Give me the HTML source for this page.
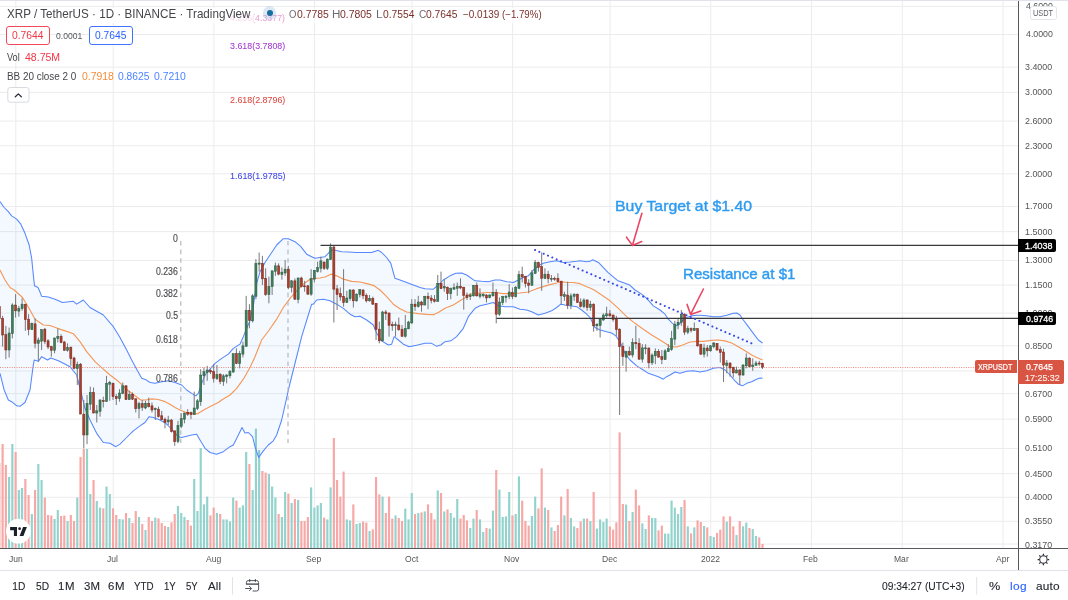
<!DOCTYPE html>
<html><head><meta charset="utf-8"><title>XRPUSDT chart</title>
<style>
html,body{margin:0;padding:0;background:#fff}
body{width:1068px;height:600px;position:relative;overflow:hidden;font-family:"Liberation Sans",sans-serif}
svg{position:absolute;left:0;top:0}
.t{position:absolute;white-space:pre;display:block}
.b{position:absolute;box-sizing:border-box}
#txt{position:absolute;left:0;top:0;width:1068px;height:600px;will-change:transform}
</style></head>
<body>
<svg width="1068" height="600" viewBox="0 0 1068 600">
<line x1="0" y1="6.41" x2="1018.5" y2="6.41" stroke="#ececee" stroke-width="1"/>
<line x1="0" y1="34.5" x2="1018.5" y2="34.5" stroke="#ececee" stroke-width="1"/>
<line x1="0" y1="67.17" x2="1018.5" y2="67.17" stroke="#ececee" stroke-width="1"/>
<line x1="0" y1="92.32" x2="1018.5" y2="92.32" stroke="#ececee" stroke-width="1"/>
<line x1="0" y1="121.09" x2="1018.5" y2="121.09" stroke="#ececee" stroke-width="1"/>
<line x1="0" y1="145.73" x2="1018.5" y2="145.73" stroke="#ececee" stroke-width="1"/>
<line x1="0" y1="173.82" x2="1018.5" y2="173.82" stroke="#ececee" stroke-width="1"/>
<line x1="0" y1="206.49" x2="1018.5" y2="206.49" stroke="#ececee" stroke-width="1"/>
<line x1="0" y1="231.65" x2="1018.5" y2="231.65" stroke="#ececee" stroke-width="1"/>
<line x1="0" y1="260.41" x2="1018.5" y2="260.41" stroke="#ececee" stroke-width="1"/>
<line x1="0" y1="285.05" x2="1018.5" y2="285.05" stroke="#ececee" stroke-width="1"/>
<line x1="0" y1="313.15" x2="1018.5" y2="313.15" stroke="#ececee" stroke-width="1"/>
<line x1="0" y1="345.81" x2="1018.5" y2="345.81" stroke="#ececee" stroke-width="1"/>
<line x1="0" y1="370.97" x2="1018.5" y2="370.97" stroke="#ececee" stroke-width="1"/>
<line x1="0" y1="393.64" x2="1018.5" y2="393.64" stroke="#ececee" stroke-width="1"/>
<line x1="0" y1="419.2" x2="1018.5" y2="419.2" stroke="#ececee" stroke-width="1"/>
<line x1="0" y1="448.49" x2="1018.5" y2="448.49" stroke="#ececee" stroke-width="1"/>
<line x1="0" y1="473.65" x2="1018.5" y2="473.65" stroke="#ececee" stroke-width="1"/>
<line x1="0" y1="497.32" x2="1018.5" y2="497.32" stroke="#ececee" stroke-width="1"/>
<line x1="0" y1="521.31" x2="1018.5" y2="521.31" stroke="#ececee" stroke-width="1"/>
<line x1="0" y1="544.06" x2="1018.5" y2="544.06" stroke="#ececee" stroke-width="1"/>
<line x1="15.8" y1="1" x2="15.8" y2="548.5" stroke="#ececee" stroke-width="1"/>
<line x1="113.22" y1="1" x2="113.22" y2="548.5" stroke="#ececee" stroke-width="1"/>
<line x1="213.89" y1="1" x2="213.89" y2="548.5" stroke="#ececee" stroke-width="1"/>
<line x1="314.56" y1="1" x2="314.56" y2="548.5" stroke="#ececee" stroke-width="1"/>
<line x1="411.98" y1="1" x2="411.98" y2="548.5" stroke="#ececee" stroke-width="1"/>
<line x1="512.65" y1="1" x2="512.65" y2="548.5" stroke="#ececee" stroke-width="1"/>
<line x1="610.07" y1="1" x2="610.07" y2="548.5" stroke="#ececee" stroke-width="1"/>
<line x1="710.74" y1="1" x2="710.74" y2="548.5" stroke="#ececee" stroke-width="1"/>
<line x1="811.41" y1="1" x2="811.41" y2="548.5" stroke="#ececee" stroke-width="1"/>
<line x1="902.34" y1="1" x2="902.34" y2="548.5" stroke="#ececee" stroke-width="1"/>
<line x1="1003.01" y1="1" x2="1003.01" y2="548.5" stroke="#ececee" stroke-width="1"/>
<g><rect x="-1.72" y="463" width="2.16" height="85" fill="#f7a8a6"/><rect x="1.53" y="444" width="2.16" height="104" fill="#f7a8a6"/><rect x="4.78" y="465" width="2.16" height="83" fill="#f7a8a6"/><rect x="8.03" y="477" width="2.16" height="71" fill="#93d3cd"/><rect x="11.27" y="444" width="2.16" height="104" fill="#93d3cd"/><rect x="14.52" y="452" width="2.16" height="96" fill="#f7a8a6"/><rect x="17.77" y="490" width="2.16" height="58" fill="#93d3cd"/><rect x="21.01" y="488" width="2.16" height="60" fill="#93d3cd"/><rect x="24.26" y="479" width="2.16" height="69" fill="#f7a8a6"/><rect x="27.51" y="495" width="2.16" height="53" fill="#f7a8a6"/><rect x="30.76" y="514" width="2.16" height="34" fill="#93d3cd"/><rect x="34" y="490" width="2.16" height="58" fill="#f7a8a6"/><rect x="37.25" y="464" width="2.16" height="84" fill="#93d3cd"/><rect x="40.5" y="480" width="2.16" height="68" fill="#93d3cd"/><rect x="43.75" y="497.6" width="2.16" height="50.4" fill="#f7a8a6"/><rect x="46.99" y="515" width="2.16" height="33" fill="#f7a8a6"/><rect x="50.24" y="515.6" width="2.16" height="32.4" fill="#f7a8a6"/><rect x="53.49" y="519" width="2.16" height="29" fill="#93d3cd"/><rect x="56.74" y="510" width="2.16" height="38" fill="#93d3cd"/><rect x="59.98" y="516" width="2.16" height="32" fill="#f7a8a6"/><rect x="63.23" y="515.6" width="2.16" height="32.4" fill="#f7a8a6"/><rect x="66.48" y="521" width="2.16" height="27" fill="#93d3cd"/><rect x="69.73" y="515" width="2.16" height="33" fill="#f7a8a6"/><rect x="72.97" y="521" width="2.16" height="27" fill="#f7a8a6"/><rect x="76.22" y="497.6" width="2.16" height="50.4" fill="#93d3cd"/><rect x="79.47" y="457" width="2.16" height="91" fill="#f7a8a6"/><rect x="82.72" y="449" width="2.16" height="99" fill="#f7a8a6"/><rect x="85.96" y="449" width="2.16" height="99" fill="#93d3cd"/><rect x="89.21" y="494" width="2.16" height="54" fill="#93d3cd"/><rect x="92.46" y="480" width="2.16" height="68" fill="#f7a8a6"/><rect x="95.7" y="501" width="2.16" height="47" fill="#93d3cd"/><rect x="98.95" y="507.6" width="2.16" height="40.4" fill="#93d3cd"/><rect x="102.2" y="508.4" width="2.16" height="39.6" fill="#f7a8a6"/><rect x="105.45" y="486.6" width="2.16" height="61.4" fill="#93d3cd"/><rect x="108.69" y="494" width="2.16" height="54" fill="#93d3cd"/><rect x="111.94" y="508.4" width="2.16" height="39.6" fill="#f7a8a6"/><rect x="115.19" y="515" width="2.16" height="33" fill="#f7a8a6"/><rect x="118.44" y="519" width="2.16" height="29" fill="#93d3cd"/><rect x="121.68" y="519.4" width="2.16" height="28.6" fill="#93d3cd"/><rect x="124.93" y="513" width="2.16" height="35" fill="#f7a8a6"/><rect x="128.18" y="518" width="2.16" height="30" fill="#93d3cd"/><rect x="131.43" y="523" width="2.16" height="25" fill="#f7a8a6"/><rect x="134.67" y="511" width="2.16" height="37" fill="#f7a8a6"/><rect x="137.92" y="517" width="2.16" height="31" fill="#93d3cd"/><rect x="141.17" y="524" width="2.16" height="24" fill="#f7a8a6"/><rect x="144.42" y="530" width="2.16" height="18" fill="#93d3cd"/><rect x="147.66" y="517" width="2.16" height="31" fill="#f7a8a6"/><rect x="150.91" y="521" width="2.16" height="27" fill="#f7a8a6"/><rect x="154.16" y="517.6" width="2.16" height="30.4" fill="#93d3cd"/><rect x="157.41" y="518.4" width="2.16" height="29.6" fill="#f7a8a6"/><rect x="160.65" y="523" width="2.16" height="25" fill="#f7a8a6"/><rect x="163.9" y="526" width="2.16" height="22" fill="#f7a8a6"/><rect x="167.15" y="527" width="2.16" height="21" fill="#93d3cd"/><rect x="170.4" y="522.4" width="2.16" height="25.6" fill="#f7a8a6"/><rect x="173.64" y="514" width="2.16" height="34" fill="#f7a8a6"/><rect x="176.89" y="506" width="2.16" height="42" fill="#93d3cd"/><rect x="180.14" y="513" width="2.16" height="35" fill="#93d3cd"/><rect x="183.38" y="517" width="2.16" height="31" fill="#93d3cd"/><rect x="186.63" y="520" width="2.16" height="28" fill="#f7a8a6"/><rect x="189.88" y="525.6" width="2.16" height="22.4" fill="#f7a8a6"/><rect x="193.13" y="479" width="2.16" height="69" fill="#93d3cd"/><rect x="196.37" y="511" width="2.16" height="37" fill="#93d3cd"/><rect x="199.62" y="448" width="2.16" height="100" fill="#93d3cd"/><rect x="202.87" y="504.4" width="2.16" height="43.6" fill="#93d3cd"/><rect x="206.12" y="496.6" width="2.16" height="51.4" fill="#93d3cd"/><rect x="209.36" y="515.4" width="2.16" height="32.6" fill="#f7a8a6"/><rect x="212.61" y="507.6" width="2.16" height="40.4" fill="#f7a8a6"/><rect x="215.86" y="513" width="2.16" height="35" fill="#93d3cd"/><rect x="219.11" y="514" width="2.16" height="34" fill="#f7a8a6"/><rect x="222.35" y="519.4" width="2.16" height="28.6" fill="#93d3cd"/><rect x="225.6" y="519.4" width="2.16" height="28.6" fill="#93d3cd"/><rect x="228.85" y="521.4" width="2.16" height="26.6" fill="#93d3cd"/><rect x="232.1" y="497.6" width="2.16" height="50.4" fill="#93d3cd"/><rect x="235.34" y="500.6" width="2.16" height="47.4" fill="#f7a8a6"/><rect x="238.59" y="507.6" width="2.16" height="40.4" fill="#93d3cd"/><rect x="241.84" y="505.4" width="2.16" height="42.6" fill="#93d3cd"/><rect x="245.09" y="452" width="2.16" height="96" fill="#93d3cd"/><rect x="248.33" y="464" width="2.16" height="84" fill="#f7a8a6"/><rect x="251.58" y="490" width="2.16" height="58" fill="#93d3cd"/><rect x="254.83" y="428.6" width="2.16" height="119.4" fill="#93d3cd"/><rect x="258.07" y="450" width="2.16" height="98" fill="#93d3cd"/><rect x="261.32" y="471" width="2.16" height="77" fill="#f7a8a6"/><rect x="264.57" y="472.6" width="2.16" height="75.4" fill="#f7a8a6"/><rect x="267.82" y="474" width="2.16" height="74" fill="#93d3cd"/><rect x="271.06" y="486.6" width="2.16" height="61.4" fill="#93d3cd"/><rect x="274.31" y="497.6" width="2.16" height="50.4" fill="#93d3cd"/><rect x="277.56" y="514" width="2.16" height="34" fill="#f7a8a6"/><rect x="280.81" y="517" width="2.16" height="31" fill="#93d3cd"/><rect x="284.05" y="492" width="2.16" height="56" fill="#93d3cd"/><rect x="287.3" y="493.6" width="2.16" height="54.4" fill="#f7a8a6"/><rect x="290.55" y="503" width="2.16" height="45" fill="#93d3cd"/><rect x="293.8" y="499" width="2.16" height="49" fill="#f7a8a6"/><rect x="297.04" y="500" width="2.16" height="48" fill="#93d3cd"/><rect x="300.29" y="521" width="2.16" height="27" fill="#f7a8a6"/><rect x="303.54" y="521" width="2.16" height="27" fill="#f7a8a6"/><rect x="306.79" y="517" width="2.16" height="31" fill="#f7a8a6"/><rect x="310.03" y="487.4" width="2.16" height="60.6" fill="#93d3cd"/><rect x="313.28" y="507.6" width="2.16" height="40.4" fill="#93d3cd"/><rect x="316.53" y="505.4" width="2.16" height="42.6" fill="#93d3cd"/><rect x="319.78" y="503" width="2.16" height="45" fill="#93d3cd"/><rect x="323.02" y="517.6" width="2.16" height="30.4" fill="#f7a8a6"/><rect x="326.27" y="519.4" width="2.16" height="28.6" fill="#93d3cd"/><rect x="329.52" y="487.4" width="2.16" height="60.6" fill="#93d3cd"/><rect x="332.77" y="438" width="2.16" height="110" fill="#f7a8a6"/><rect x="336.01" y="480" width="2.16" height="68" fill="#f7a8a6"/><rect x="339.26" y="496.6" width="2.16" height="51.4" fill="#f7a8a6"/><rect x="342.51" y="471.6" width="2.16" height="76.4" fill="#f7a8a6"/><rect x="345.75" y="519.4" width="2.16" height="28.6" fill="#93d3cd"/><rect x="349" y="520.4" width="2.16" height="27.6" fill="#93d3cd"/><rect x="352.25" y="504.4" width="2.16" height="43.6" fill="#f7a8a6"/><rect x="355.5" y="524" width="2.16" height="24" fill="#93d3cd"/><rect x="358.74" y="523" width="2.16" height="25" fill="#93d3cd"/><rect x="361.99" y="521.6" width="2.16" height="26.4" fill="#f7a8a6"/><rect x="365.24" y="522.6" width="2.16" height="25.4" fill="#f7a8a6"/><rect x="368.49" y="531" width="2.16" height="17" fill="#93d3cd"/><rect x="371.73" y="529.4" width="2.16" height="18.6" fill="#f7a8a6"/><rect x="374.98" y="477" width="2.16" height="71" fill="#f7a8a6"/><rect x="378.23" y="494.4" width="2.16" height="53.6" fill="#f7a8a6"/><rect x="381.48" y="496.6" width="2.16" height="51.4" fill="#93d3cd"/><rect x="384.72" y="513" width="2.16" height="35" fill="#f7a8a6"/><rect x="387.97" y="496.6" width="2.16" height="51.4" fill="#f7a8a6"/><rect x="391.22" y="518.6" width="2.16" height="29.4" fill="#f7a8a6"/><rect x="394.47" y="515.4" width="2.16" height="32.6" fill="#93d3cd"/><rect x="397.71" y="518" width="2.16" height="30" fill="#f7a8a6"/><rect x="400.96" y="521" width="2.16" height="27" fill="#f7a8a6"/><rect x="404.21" y="508.6" width="2.16" height="39.4" fill="#93d3cd"/><rect x="407.46" y="519.4" width="2.16" height="28.6" fill="#93d3cd"/><rect x="410.7" y="493" width="2.16" height="55" fill="#93d3cd"/><rect x="413.95" y="514" width="2.16" height="34" fill="#f7a8a6"/><rect x="417.2" y="513" width="2.16" height="35" fill="#93d3cd"/><rect x="420.44" y="512.4" width="2.16" height="35.6" fill="#f7a8a6"/><rect x="423.69" y="511.4" width="2.16" height="36.6" fill="#93d3cd"/><rect x="426.94" y="504.4" width="2.16" height="43.6" fill="#f7a8a6"/><rect x="430.19" y="513" width="2.16" height="35" fill="#f7a8a6"/><rect x="433.43" y="519.4" width="2.16" height="28.6" fill="#f7a8a6"/><rect x="436.68" y="490.4" width="2.16" height="57.6" fill="#93d3cd"/><rect x="439.93" y="493" width="2.16" height="55" fill="#f7a8a6"/><rect x="443.18" y="511.4" width="2.16" height="36.6" fill="#93d3cd"/><rect x="446.42" y="509.4" width="2.16" height="38.6" fill="#f7a8a6"/><rect x="449.67" y="513" width="2.16" height="35" fill="#93d3cd"/><rect x="452.92" y="517.6" width="2.16" height="30.4" fill="#93d3cd"/><rect x="456.17" y="499" width="2.16" height="49" fill="#93d3cd"/><rect x="459.41" y="518.6" width="2.16" height="29.4" fill="#f7a8a6"/><rect x="462.66" y="515" width="2.16" height="33" fill="#f7a8a6"/><rect x="465.91" y="520.4" width="2.16" height="27.6" fill="#f7a8a6"/><rect x="469.16" y="528" width="2.16" height="20" fill="#93d3cd"/><rect x="472.4" y="518.6" width="2.16" height="29.4" fill="#93d3cd"/><rect x="475.65" y="510" width="2.16" height="38" fill="#f7a8a6"/><rect x="478.9" y="519.4" width="2.16" height="28.6" fill="#93d3cd"/><rect x="482.15" y="532" width="2.16" height="16" fill="#93d3cd"/><rect x="485.39" y="528" width="2.16" height="20" fill="#f7a8a6"/><rect x="488.64" y="528.6" width="2.16" height="19.4" fill="#93d3cd"/><rect x="491.89" y="510.6" width="2.16" height="37.4" fill="#93d3cd"/><rect x="495.14" y="470" width="2.16" height="78" fill="#f7a8a6"/><rect x="498.38" y="489.6" width="2.16" height="58.4" fill="#93d3cd"/><rect x="501.63" y="517" width="2.16" height="31" fill="#93d3cd"/><rect x="504.88" y="516.4" width="2.16" height="31.6" fill="#93d3cd"/><rect x="508.12" y="492" width="2.16" height="56" fill="#93d3cd"/><rect x="511.37" y="515.4" width="2.16" height="32.6" fill="#f7a8a6"/><rect x="514.62" y="514" width="2.16" height="34" fill="#93d3cd"/><rect x="517.87" y="476.4" width="2.16" height="71.6" fill="#93d3cd"/><rect x="521.11" y="500.6" width="2.16" height="47.4" fill="#f7a8a6"/><rect x="524.36" y="521" width="2.16" height="27" fill="#f7a8a6"/><rect x="527.61" y="525.6" width="2.16" height="22.4" fill="#f7a8a6"/><rect x="530.86" y="516" width="2.16" height="32" fill="#93d3cd"/><rect x="534.1" y="496.6" width="2.16" height="51.4" fill="#93d3cd"/><rect x="537.35" y="508.4" width="2.16" height="39.6" fill="#f7a8a6"/><rect x="540.6" y="468.4" width="2.16" height="79.6" fill="#f7a8a6"/><rect x="543.85" y="507.6" width="2.16" height="40.4" fill="#93d3cd"/><rect x="547.09" y="510" width="2.16" height="38" fill="#f7a8a6"/><rect x="550.34" y="527.4" width="2.16" height="20.6" fill="#93d3cd"/><rect x="553.59" y="531" width="2.16" height="17" fill="#f7a8a6"/><rect x="556.84" y="525" width="2.16" height="23" fill="#f7a8a6"/><rect x="560.08" y="496.6" width="2.16" height="51.4" fill="#f7a8a6"/><rect x="563.33" y="515.4" width="2.16" height="32.6" fill="#93d3cd"/><rect x="566.58" y="489" width="2.16" height="59" fill="#f7a8a6"/><rect x="569.83" y="518" width="2.16" height="30" fill="#93d3cd"/><rect x="573.07" y="526.4" width="2.16" height="21.6" fill="#93d3cd"/><rect x="576.32" y="528" width="2.16" height="20" fill="#f7a8a6"/><rect x="579.57" y="521.4" width="2.16" height="26.6" fill="#f7a8a6"/><rect x="582.81" y="518.6" width="2.16" height="29.4" fill="#93d3cd"/><rect x="586.06" y="518.6" width="2.16" height="29.4" fill="#f7a8a6"/><rect x="589.31" y="521" width="2.16" height="27" fill="#93d3cd"/><rect x="592.56" y="492" width="2.16" height="56" fill="#f7a8a6"/><rect x="595.8" y="528.6" width="2.16" height="19.4" fill="#93d3cd"/><rect x="599.05" y="519.4" width="2.16" height="28.6" fill="#93d3cd"/><rect x="602.3" y="522" width="2.16" height="26" fill="#93d3cd"/><rect x="605.55" y="518.6" width="2.16" height="29.4" fill="#93d3cd"/><rect x="608.79" y="526.4" width="2.16" height="21.6" fill="#f7a8a6"/><rect x="612.04" y="529.6" width="2.16" height="18.4" fill="#f7a8a6"/><rect x="615.29" y="522.4" width="2.16" height="25.6" fill="#f7a8a6"/><rect x="618.54" y="432.4" width="2.16" height="115.6" fill="#f7a8a6"/><rect x="621.78" y="504" width="2.16" height="44" fill="#f7a8a6"/><rect x="625.03" y="504.6" width="2.16" height="43.4" fill="#93d3cd"/><rect x="628.28" y="521" width="2.16" height="27" fill="#f7a8a6"/><rect x="631.53" y="512" width="2.16" height="36" fill="#93d3cd"/><rect x="634.77" y="489.6" width="2.16" height="58.4" fill="#f7a8a6"/><rect x="638.02" y="505.4" width="2.16" height="42.6" fill="#f7a8a6"/><rect x="641.27" y="523.4" width="2.16" height="24.6" fill="#93d3cd"/><rect x="644.52" y="529" width="2.16" height="19" fill="#93d3cd"/><rect x="647.76" y="515.4" width="2.16" height="32.6" fill="#f7a8a6"/><rect x="651.01" y="518" width="2.16" height="30" fill="#93d3cd"/><rect x="654.26" y="518" width="2.16" height="30" fill="#93d3cd"/><rect x="657.51" y="530.4" width="2.16" height="17.6" fill="#f7a8a6"/><rect x="660.75" y="525.6" width="2.16" height="22.4" fill="#f7a8a6"/><rect x="664" y="533.6" width="2.16" height="14.4" fill="#93d3cd"/><rect x="667.25" y="533.6" width="2.16" height="14.4" fill="#93d3cd"/><rect x="670.49" y="500.6" width="2.16" height="47.4" fill="#93d3cd"/><rect x="673.74" y="507.6" width="2.16" height="40.4" fill="#93d3cd"/><rect x="676.99" y="514" width="2.16" height="34" fill="#93d3cd"/><rect x="680.24" y="507" width="2.16" height="41" fill="#93d3cd"/><rect x="683.48" y="500" width="2.16" height="48" fill="#f7a8a6"/><rect x="686.73" y="526.4" width="2.16" height="21.6" fill="#93d3cd"/><rect x="689.98" y="533.4" width="2.16" height="14.6" fill="#f7a8a6"/><rect x="693.23" y="527.4" width="2.16" height="20.6" fill="#93d3cd"/><rect x="696.47" y="520.4" width="2.16" height="27.6" fill="#f7a8a6"/><rect x="699.72" y="522" width="2.16" height="26" fill="#f7a8a6"/><rect x="702.97" y="526" width="2.16" height="22" fill="#93d3cd"/><rect x="706.22" y="527.4" width="2.16" height="20.6" fill="#f7a8a6"/><rect x="709.46" y="536" width="2.16" height="12" fill="#93d3cd"/><rect x="712.71" y="537" width="2.16" height="11" fill="#93d3cd"/><rect x="715.96" y="533" width="2.16" height="15" fill="#f7a8a6"/><rect x="719.21" y="529.6" width="2.16" height="18.4" fill="#f7a8a6"/><rect x="722.45" y="516.4" width="2.16" height="31.6" fill="#f7a8a6"/><rect x="725.7" y="521.6" width="2.16" height="26.4" fill="#93d3cd"/><rect x="728.95" y="516.4" width="2.16" height="31.6" fill="#f7a8a6"/><rect x="732.2" y="526.4" width="2.16" height="21.6" fill="#f7a8a6"/><rect x="735.44" y="535" width="2.16" height="13" fill="#93d3cd"/><rect x="738.69" y="521" width="2.16" height="27" fill="#f7a8a6"/><rect x="741.94" y="526.4" width="2.16" height="21.6" fill="#93d3cd"/><rect x="745.18" y="522.6" width="2.16" height="25.4" fill="#93d3cd"/><rect x="748.43" y="528" width="2.16" height="20" fill="#f7a8a6"/><rect x="751.68" y="529" width="2.16" height="19" fill="#93d3cd"/><rect x="754.93" y="536" width="2.16" height="12" fill="#93d3cd"/><rect x="758.17" y="537.4" width="2.16" height="10.6" fill="#f7a8a6"/><rect x="761.42" y="544" width="2.16" height="4" fill="#f7a8a6"/></g>
<path d="M0 201.67 L4.17 207.5 L8.33 211.67 L11.67 215.83 L16.67 219.17 L20.83 224.17 L25 233.33 L29.17 245 L31.67 258.33 L33.33 275 L34.5 285.83 L38 287.5 L39.17 290 L41.67 296.33 L48.33 297 L55 299.17 L62.5 302.5 L73.33 301.33 L76.67 304.17 L83.33 300 L90 307.5 L103.33 315 L113.33 326.67 L120 337.5 L126.67 350 L131.67 360 L136.67 369.17 L141.67 378.33 L145.83 379.67 L150 382.5 L155 383.33 L161.67 381.67 L168.33 380.83 L175 382.5 L181.67 385 L186.67 390 L191.67 393.33 L195.83 395.83 L198.33 393.33 L201.67 383.33 L205 375 L210 369.17 L215 363.33 L221.67 358.33 L228.33 354.17 L233.33 348.33 L240 344.17 L243.33 336.67 L246.67 328.33 L250 320.83 L253.67 303.33 L256.67 283.33 L260 271.67 L265 262.5 L270 255 L276.67 245 L283.33 238.67 L288.33 238.67 L295 241.67 L300.83 246.67 L306.67 254.17 L311.67 256.67 L315 258.33 L320 257.5 L325 256.67 L328.33 253.33 L330.83 250 L335 250.33 L341.67 251.67 L348.33 252 L356.67 252.5 L365 252.5 L371.67 252.5 L378.33 250.33 L381.67 252.5 L386.67 257.5 L390.83 263.33 L393.33 272.5 L395 278.33 L400 280 L406.67 282.5 L413.33 285 L420 287.5 L425 288.67 L433.33 289.17 L438.33 285 L443.33 280 L450 275.83 L455.83 273.33 L461.67 273 L466.67 275 L475 280.83 L481.67 281.33 L488.33 281.67 L495 280 L500 280 L506.67 281.67 L513.33 282.5 L518.33 280 L523.33 277.5 L528.33 275.83 L533.33 270 L538.33 265.83 L543.33 263.33 L550 261.67 L556.67 260.83 L563.33 262.5 L570 262 L576.67 261.33 L580 260.83 L586.67 261.67 L590 261.33 L592.71 259.73 L598.89 262.82 L608.16 272.71 L617.43 280.43 L629.79 285.07 L635 290 L641.67 294.17 L646.67 298.33 L653.33 305.83 L660 310 L665 314.17 L668.33 319.17 L672.5 323.33 L676.67 325.83 L680 323.33 L683.33 320 L686.67 317.5 L691.67 315.83 L696.67 315.33 L700 315.33 L706.67 315.83 L713.33 316.67 L720 316.67 L726.67 315.33 L733.33 313.33 L736.67 313 L740 315 L743.33 320 L748.33 326.67 L753.33 333.33 L758.33 340 L762.5 343 L762.5 378.33 L760 378 L756.67 379.17 L751.67 381.67 L746.67 383.33 L742.5 385.83 L738.33 384.17 L735 380.83 L730 375 L725 370 L720 367.5 L713.33 368.33 L706.67 370.83 L700 372 L693.33 370.83 L686.67 371.33 L680 373.33 L675 372 L670 375 L666.67 376.67 L663.33 379.17 L658.33 376.67 L653.33 375 L648.33 373.33 L643.33 370 L636.67 365.83 L630 360 L625 353.33 L620 341.67 L615.83 335.83 L611.67 333 L606.67 331.67 L600 330 L595 327.5 L590 317.5 L586.67 314.17 L581.67 310 L576.67 306.67 L570 305.83 L565 305 L560.83 304.17 L556.67 307.5 L551.67 310.83 L545 313.33 L538.33 315 L531.67 311.67 L526.67 310 L520 309.17 L513.33 306.67 L505 306.67 L498.33 305.83 L493.33 302.5 L486.67 304.17 L480 305.83 L475 308.33 L468.33 316.67 L463.33 328.33 L456.67 336.67 L450.83 340.83 L445 341.67 L440.83 345 L436.67 346.33 L431.67 343.33 L425 343.33 L416.67 345.33 L409.17 346.67 L403.33 344.17 L398.33 340 L394.17 336.67 L391.67 344.17 L388.33 345 L381.67 340.83 L376.67 333.33 L373.33 325 L366.67 320 L360 316.33 L355 316.67 L350 314.17 L343.33 308.33 L336.67 304.17 L330 300.83 L323.33 299.17 L316.67 300 L313.33 304.17 L311.67 304.17 L308.33 315 L301.67 336.67 L295.83 360 L290.83 380 L289.17 386.67 L285.83 401.67 L281.67 420 L276.67 435 L273.33 440.83 L268.33 445 L263.33 450.83 L258.67 457.5 L255 446.67 L252.5 436.67 L248.33 432.5 L245 433 L242 427.5 L237.5 436.67 L233.33 445 L230 446.67 L223.33 451.67 L216.67 454.17 L210 452.5 L205 448.33 L200 440 L196.67 434.17 L191.67 435 L186.67 436.33 L181.67 437.5 L178.33 436.67 L174.17 432.5 L170 427.5 L165.83 423.33 L160 420 L153.33 417.5 L149.17 416.67 L145 422.5 L140 425.83 L133.33 430.83 L126.67 437.5 L120 444.17 L115.83 446.67 L110 443.33 L103.33 442.5 L96.67 433.33 L90 420 L85 408.33 L81.67 395 L76.67 375 L70 366.67 L63.33 363.33 L58.33 360.83 L50.83 358 L47.5 360 L41.67 356.67 L38.33 361.33 L34.17 360 L32.83 368.33 L31.33 380 L30 390 L25 402.5 L20 406.33 L16.67 405.83 L11.67 401.67 L8.33 400 L4.17 390 L0 373.33Z" fill="#2d8cf0" fill-opacity="0.055" stroke="none"/>
<path d="M0 201.67 L4.17 207.5 L8.33 211.67 L11.67 215.83 L16.67 219.17 L20.83 224.17 L25 233.33 L29.17 245 L31.67 258.33 L33.33 275 L34.5 285.83 L38 287.5 L39.17 290 L41.67 296.33 L48.33 297 L55 299.17 L62.5 302.5 L73.33 301.33 L76.67 304.17 L83.33 300 L90 307.5 L103.33 315 L113.33 326.67 L120 337.5 L126.67 350 L131.67 360 L136.67 369.17 L141.67 378.33 L145.83 379.67 L150 382.5 L155 383.33 L161.67 381.67 L168.33 380.83 L175 382.5 L181.67 385 L186.67 390 L191.67 393.33 L195.83 395.83 L198.33 393.33 L201.67 383.33 L205 375 L210 369.17 L215 363.33 L221.67 358.33 L228.33 354.17 L233.33 348.33 L240 344.17 L243.33 336.67 L246.67 328.33 L250 320.83 L253.67 303.33 L256.67 283.33 L260 271.67 L265 262.5 L270 255 L276.67 245 L283.33 238.67 L288.33 238.67 L295 241.67 L300.83 246.67 L306.67 254.17 L311.67 256.67 L315 258.33 L320 257.5 L325 256.67 L328.33 253.33 L330.83 250 L335 250.33 L341.67 251.67 L348.33 252 L356.67 252.5 L365 252.5 L371.67 252.5 L378.33 250.33 L381.67 252.5 L386.67 257.5 L390.83 263.33 L393.33 272.5 L395 278.33 L400 280 L406.67 282.5 L413.33 285 L420 287.5 L425 288.67 L433.33 289.17 L438.33 285 L443.33 280 L450 275.83 L455.83 273.33 L461.67 273 L466.67 275 L475 280.83 L481.67 281.33 L488.33 281.67 L495 280 L500 280 L506.67 281.67 L513.33 282.5 L518.33 280 L523.33 277.5 L528.33 275.83 L533.33 270 L538.33 265.83 L543.33 263.33 L550 261.67 L556.67 260.83 L563.33 262.5 L570 262 L576.67 261.33 L580 260.83 L586.67 261.67 L590 261.33 L592.71 259.73 L598.89 262.82 L608.16 272.71 L617.43 280.43 L629.79 285.07 L635 290 L641.67 294.17 L646.67 298.33 L653.33 305.83 L660 310 L665 314.17 L668.33 319.17 L672.5 323.33 L676.67 325.83 L680 323.33 L683.33 320 L686.67 317.5 L691.67 315.83 L696.67 315.33 L700 315.33 L706.67 315.83 L713.33 316.67 L720 316.67 L726.67 315.33 L733.33 313.33 L736.67 313 L740 315 L743.33 320 L748.33 326.67 L753.33 333.33 L758.33 340 L762.5 343" fill="none" stroke="#5587ff" stroke-width="1.05" stroke-linejoin="round"/>
<path d="M0 373.33 L4.17 390 L8.33 400 L11.67 401.67 L16.67 405.83 L20 406.33 L25 402.5 L30 390 L31.33 380 L32.83 368.33 L34.17 360 L38.33 361.33 L41.67 356.67 L47.5 360 L50.83 358 L58.33 360.83 L63.33 363.33 L70 366.67 L76.67 375 L81.67 395 L85 408.33 L90 420 L96.67 433.33 L103.33 442.5 L110 443.33 L115.83 446.67 L120 444.17 L126.67 437.5 L133.33 430.83 L140 425.83 L145 422.5 L149.17 416.67 L153.33 417.5 L160 420 L165.83 423.33 L170 427.5 L174.17 432.5 L178.33 436.67 L181.67 437.5 L186.67 436.33 L191.67 435 L196.67 434.17 L200 440 L205 448.33 L210 452.5 L216.67 454.17 L223.33 451.67 L230 446.67 L233.33 445 L237.5 436.67 L242 427.5 L245 433 L248.33 432.5 L252.5 436.67 L255 446.67 L258.67 457.5 L263.33 450.83 L268.33 445 L273.33 440.83 L276.67 435 L281.67 420 L285.83 401.67 L289.17 386.67 L290.83 380 L295.83 360 L301.67 336.67 L308.33 315 L311.67 304.17 L313.33 304.17 L316.67 300 L323.33 299.17 L330 300.83 L336.67 304.17 L343.33 308.33 L350 314.17 L355 316.67 L360 316.33 L366.67 320 L373.33 325 L376.67 333.33 L381.67 340.83 L388.33 345 L391.67 344.17 L394.17 336.67 L398.33 340 L403.33 344.17 L409.17 346.67 L416.67 345.33 L425 343.33 L431.67 343.33 L436.67 346.33 L440.83 345 L445 341.67 L450.83 340.83 L456.67 336.67 L463.33 328.33 L468.33 316.67 L475 308.33 L480 305.83 L486.67 304.17 L493.33 302.5 L498.33 305.83 L505 306.67 L513.33 306.67 L520 309.17 L526.67 310 L531.67 311.67 L538.33 315 L545 313.33 L551.67 310.83 L556.67 307.5 L560.83 304.17 L565 305 L570 305.83 L576.67 306.67 L581.67 310 L586.67 314.17 L590 317.5 L595 327.5 L600 330 L606.67 331.67 L611.67 333 L615.83 335.83 L620 341.67 L625 353.33 L630 360 L636.67 365.83 L643.33 370 L648.33 373.33 L653.33 375 L658.33 376.67 L663.33 379.17 L666.67 376.67 L670 375 L675 372 L680 373.33 L686.67 371.33 L693.33 370.83 L700 372 L706.67 370.83 L713.33 368.33 L720 367.5 L725 370 L730 375 L735 380.83 L738.33 384.17 L742.5 385.83 L746.67 383.33 L751.67 381.67 L756.67 379.17 L760 378 L762.5 378.33" fill="none" stroke="#5587ff" stroke-width="1.05" stroke-linejoin="round"/>
<path d="M0 270 L5 280 L10 287.5 L14.17 290 L22.5 297.5 L30 310 L35 319.17 L43.33 325 L50 325.5 L57.5 328.33 L66.67 331.33 L73.33 333.67 L80 341.67 L86.67 351.67 L95 361.67 L103.33 369.17 L110 375 L116.67 380 L123.33 385.83 L128.33 390.83 L135 395.83 L140.83 400 L145.83 400 L151.67 398.83 L158.33 399.5 L165 401.67 L170 404.17 L175 407.5 L180 410 L185 412 L190 413.33 L195 414.17 L198.33 413.33 L205 409.17 L211.67 405.83 L218.33 402.5 L221.67 400 L230 395 L236.67 388.33 L243.33 379.17 L250 367.5 L255 356.67 L261.67 340 L269.17 330 L276.67 319.17 L283.33 307.5 L290 298.33 L296.67 290.83 L303.33 284.17 L310 279.17 L315 278.33 L320 278 L325 277 L330.83 274.17 L336.67 275.83 L343.33 279.17 L351.67 281.33 L360 282 L366.67 283.67 L373.33 285.33 L380 290 L386.67 296.67 L393.33 304.17 L400 308.67 L406.67 312 L410 312.5 L418.33 313.67 L426.67 314.33 L433.33 314.67 L438.33 312.5 L445 308.33 L453.33 305 L460 300.83 L466.67 296.67 L470 294.17 L478.33 293.33 L486.67 292.5 L495 292.5 L503.33 293.67 L511.67 293.67 L520 293 L528.33 292 L536.67 288.67 L543.33 286.67 L550 284.67 L556.67 283 L560.83 281.67 L566.67 282.5 L573.33 282.5 L580 283.67 L586.67 286.67 L590 288 L594.17 290 L601.67 295 L610 300.83 L618.33 308.33 L626.67 316.67 L635 323.33 L643.33 329.17 L651.67 335 L660 340 L666.67 344.17 L670 346.67 L676.67 347 L683.33 344.67 L690 342 L696.67 341.33 L703.33 341.33 L711.67 340.33 L718.33 340 L725 340.83 L731.67 343 L738.33 346.67 L745 350.83 L751.67 355 L756.67 357.5 L762.5 360" fill="none" stroke="#f5985a" stroke-width="1.15" stroke-linejoin="round"/>
<line x1="180.8" y1="241" x2="180.8" y2="443" stroke="#b4b5ba" stroke-width="1.15" stroke-dasharray="4.6 4"/>
<line x1="288" y1="241" x2="288" y2="443" stroke="#b4b5ba" stroke-width="1.15" stroke-dasharray="4.6 4"/>
<line x1="0" y1="367.5" x2="975" y2="367.5" stroke="#ee8a7c" stroke-width="1" stroke-dasharray="1 1.35"/>
<path d="M-0.64 300V319.33M2.61 315.83V346.67M5.86 325.83V359.17M9.11 327.5V357.5M12.35 303.33V338.33M15.6 294.17V317.5M18.85 305.83V316.67M22.09 298.33V310.83M25.34 304.17V330.83M28.59 314.17V335.33M31.84 322.5V330M35.08 318.33V348.33M38.33 337.5V361.67M41.58 329.5V350M44.83 328V344.17M48.07 339.17V349.17M51.32 345.83V356.67M54.57 337.5V353.33M57.82 328.33V342.5M61.06 334.17V343.33M64.31 340.83V350.83M67.56 343.33V351.67M70.81 346.67V365.83M74.05 356.67V369.17M77.3 361.67V385M80.55 363V414.33M83.8 400V448.33M87.04 395V444.17M90.29 386.67V410M93.54 387.5V413.33M96.78 405V422.5M100.03 399.17V416.67M103.28 396.67V407.5M106.53 375.83V401.67M109.77 380.83V400.83M113.02 382.5V400M116.27 394.17V405M119.52 389.17V401.67M122.76 382.5V394.17M126.01 385V400M129.26 390.83V400M132.51 392.5V400M135.75 398.33V412.5M139 401.67V418.33M142.25 400V410.83M145.5 400.83V409.17M148.74 397.5V407.5M151.99 402.5V412.5M155.24 407.5V420M158.49 406.67V417.5M161.73 410.83V420M164.98 417.5V428.33M168.23 415.83V425M171.48 419.17V432.5M174.72 430.83V445.83M177.97 420.83V443.33M181.22 413.33V428.33M184.46 412.5V423.33M187.71 409.17V415.83M190.96 411.67V419.17M194.21 391.67V415M197.45 399.17V410M200.7 369.17V405.83M203.95 367.5V385M207.2 365.83V380.83M210.44 369.17V374.17M213.69 364.17V382.5M216.94 365V380M220.19 373.33V384.17M223.43 374.17V385.83M226.68 374.17V383.33M229.93 370V378.33M233.18 353.33V373M236.42 348.33V364.17M239.67 350.83V368.33M242.92 341.67V357.5M246.17 295.83V346.67M249.41 304.17V328.33M252.66 294.17V322.5M255.91 259.17V299.17M259.15 252.5V271.67M262.4 255.83V285M265.65 268.33V295.83M268.9 276.67V303.33M272.14 270.83V295M275.39 262.5V275.83M278.64 263.33V275.33M281.89 267.5V279.67M285.13 260V275.83M288.38 265.83V289.17M291.63 280V292.5M294.88 278.33V300M298.12 277.5V303.33M301.37 276.67V287.5M304.62 280.83V291.67M307.87 285V295M311.11 269.17V295.83M314.36 270V282.5M317.61 261.67V272.5M320.86 256.67V272.5M324.1 261.67V270M327.35 258.33V270M330.6 243.33V260M333.85 245.83V322.5M337.09 285V310M340.34 287.5V300.83M343.59 269.17V306.67M346.83 290.83V303M350.08 289.17V300.83M353.33 289.17V307.5M356.58 293.33V301.67M359.82 289.17V297.5M363.07 289.17V299.17M366.32 293.33V302.5M369.57 295V301.67M372.81 296.67V305M376.06 303.33V340M379.31 321.67V343.33M382.56 310.83V341.67M385.8 310V320M389.05 312.5V336.67M392.3 321.67V330.83M395.55 321.67V336.67M398.79 317.5V330.83M402.04 325V336.67M405.29 315V337.5M408.54 320.83V329.17M411.78 299.17V324.17M415.03 299.17V310.83M418.28 295.83V307.5M421.52 300.83V311.67M424.77 295.83V305.33M428.02 292.5V309.17M431.27 295V303.33M434.51 295V302.5M437.76 275V301.67M441.01 271.67V289.17M444.26 279.17V291.67M447.5 286.67V300M450.75 287.5V299.17M454 283.33V290M457.25 282.5V295.83M460.49 278.33V289.17M463.74 286.67V309.67M466.99 292.5V300M470.24 293.33V300M473.48 285V296.67M476.73 282.5V296.67M479.98 288.33V298.33M483.23 293.33V297.5M486.47 294.17V302.5M489.72 294.17V298.33M492.97 282.5V296.67M496.22 289.17V323.33M499.46 297.5V315.83M502.71 295.83V305M505.96 295V302.5M509.2 284.17V299.17M512.45 287.5V299.17M515.7 285.83V297.5M518.95 270.83V289.17M522.19 266.67V282.5M525.44 275.83V287.5M528.69 279.17V293.33M531.94 270V285.83M535.18 260V274.17M538.43 261.67V271.67M541.68 252.5V290.83M544.93 268.33V279.17M548.17 270.83V283.33M551.42 275V281.67M554.67 276.67V280.83M557.92 273.33V282M561.16 280.83V304.17M564.41 291.67V300.83M567.66 281.67V309.17M570.91 293.33V309.17M574.15 293.33V300.83M577.4 293.67V303M580.65 298.33V307.5M583.89 298.33V308.33M587.14 299.17V310.83M590.39 300.83V310.83M593.64 303.33V331.67M596.88 323.33V330.83M600.13 318.33V337.5M603.38 313.33V320.83M606.63 306.67V317.5M609.87 310V316.67M613.12 314.67V321.67M616.37 315.83V335.83M619.62 328.33V415M622.86 342.5V365.83M626.11 350.83V371.67M629.36 346.67V355.83M632.61 338.33V357.5M635.85 325.83V349.17M639.1 338.33V360M642.35 344.17V362.5M645.6 344.17V354.17M648.84 347.5V368.33M652.09 353.33V365M655.34 348.33V364.17M658.59 349.17V357.5M661.83 350V364.17M665.08 349.17V360M668.33 344.17V352M671.57 330.83V350.83M674.82 320.83V345M678.07 318.33V329.17M681.32 310V325.83M684.56 313.33V335M687.81 325.83V334.17M691.06 327.5V332.5M694.31 322.5V330.83M697.55 328.33V346.67M700.8 343.67V355M704.05 343.67V357.5M707.3 345V356.67M710.54 345V351.67M713.79 342V348.33M717.04 343V350.83M720.29 346.67V362.5M723.53 348.67V382M726.78 360V373.33M730.03 362.5V376.67M733.28 366.67V377.5M736.52 366.67V373.33M739.77 369.17V385M743.02 364.17V375.83M746.26 353.33V368.33M749.51 357.5V367.5M752.76 358.33V370.83M756.01 360.83V365.83M759.25 360.83V365.83M762.5 362.67V369" stroke="#77787c" stroke-width="1" fill="none"/>
<g><rect x="-1.69" y="306.67" width="2.1" height="12" fill="#ab3d2c" stroke="#7a281d" stroke-width="0.5"/><rect x="1.56" y="318.33" width="2.1" height="16.67" fill="#ab3d2c" stroke="#7a281d" stroke-width="0.5"/><rect x="4.81" y="334.67" width="2.1" height="15.33" fill="#ab3d2c" stroke="#7a281d" stroke-width="0.5"/><rect x="8.06" y="333" width="2.1" height="17" fill="#3f7d5a" stroke="#2c5c43" stroke-width="0.5"/><rect x="11.3" y="305" width="2.1" height="28.67" fill="#3f7d5a" stroke="#2c5c43" stroke-width="0.5"/><rect x="14.55" y="305" width="2.1" height="5.83" fill="#ab3d2c" stroke="#7a281d" stroke-width="0.5"/><rect x="17.8" y="308.33" width="2.1" height="2.83" fill="#3f7d5a" stroke="#2c5c43" stroke-width="0.5"/><rect x="21.04" y="304.17" width="2.1" height="4.5" fill="#3f7d5a" stroke="#2c5c43" stroke-width="0.5"/><rect x="24.29" y="304.17" width="2.1" height="15.5" fill="#ab3d2c" stroke="#7a281d" stroke-width="0.5"/><rect x="27.54" y="319.17" width="2.1" height="10.5" fill="#ab3d2c" stroke="#7a281d" stroke-width="0.5"/><rect x="30.79" y="323.33" width="2.1" height="6.33" fill="#3f7d5a" stroke="#2c5c43" stroke-width="0.5"/><rect x="34.03" y="323.83" width="2.1" height="19.5" fill="#ab3d2c" stroke="#7a281d" stroke-width="0.5"/><rect x="37.28" y="340" width="2.1" height="3.33" fill="#3f7d5a" stroke="#2c5c43" stroke-width="0.5"/><rect x="40.53" y="329.5" width="2.1" height="11.67" fill="#3f7d5a" stroke="#2c5c43" stroke-width="0.5"/><rect x="43.78" y="329.17" width="2.1" height="12.5" fill="#ab3d2c" stroke="#7a281d" stroke-width="0.5"/><rect x="47.02" y="340.83" width="2.1" height="6.17" fill="#ab3d2c" stroke="#7a281d" stroke-width="0.5"/><rect x="50.27" y="346.67" width="2.1" height="3.67" fill="#ab3d2c" stroke="#7a281d" stroke-width="0.5"/><rect x="53.52" y="338" width="2.1" height="12.33" fill="#3f7d5a" stroke="#2c5c43" stroke-width="0.5"/><rect x="56.77" y="336.33" width="2.1" height="2.33" fill="#3f7d5a" stroke="#2c5c43" stroke-width="0.5"/><rect x="60.01" y="336.33" width="2.1" height="6.17" fill="#ab3d2c" stroke="#7a281d" stroke-width="0.5"/><rect x="63.26" y="342" width="2.1" height="8.33" fill="#ab3d2c" stroke="#7a281d" stroke-width="0.5"/><rect x="66.51" y="347.5" width="2.1" height="2.83" fill="#3f7d5a" stroke="#2c5c43" stroke-width="0.5"/><rect x="69.76" y="347.17" width="2.1" height="11.5" fill="#ab3d2c" stroke="#7a281d" stroke-width="0.5"/><rect x="73" y="358" width="2.1" height="10.33" fill="#ab3d2c" stroke="#7a281d" stroke-width="0.5"/><rect x="76.25" y="364.67" width="2.1" height="4" fill="#3f7d5a" stroke="#2c5c43" stroke-width="0.5"/><rect x="79.5" y="364.17" width="2.1" height="49.83" fill="#ab3d2c" stroke="#7a281d" stroke-width="0.5"/><rect x="82.75" y="414.17" width="2.1" height="20.83" fill="#ab3d2c" stroke="#7a281d" stroke-width="0.5"/><rect x="85.99" y="403.33" width="2.1" height="31.67" fill="#3f7d5a" stroke="#2c5c43" stroke-width="0.5"/><rect x="89.24" y="392.5" width="2.1" height="11.67" fill="#3f7d5a" stroke="#2c5c43" stroke-width="0.5"/><rect x="92.49" y="392.5" width="2.1" height="20.5" fill="#ab3d2c" stroke="#7a281d" stroke-width="0.5"/><rect x="95.73" y="410.83" width="2.1" height="2.17" fill="#3f7d5a" stroke="#2c5c43" stroke-width="0.5"/><rect x="98.98" y="400" width="2.1" height="11.33" fill="#3f7d5a" stroke="#2c5c43" stroke-width="0.5"/><rect x="102.23" y="400.5" width="2.1" height="1.17" fill="#ab3d2c" stroke="#7a281d" stroke-width="0.5"/><rect x="105.48" y="383.33" width="2.1" height="18.33" fill="#3f7d5a" stroke="#2c5c43" stroke-width="0.5"/><rect x="108.72" y="382.5" width="2.1" height="1.67" fill="#3f7d5a" stroke="#2c5c43" stroke-width="0.5"/><rect x="111.97" y="383.33" width="2.1" height="13.33" fill="#ab3d2c" stroke="#7a281d" stroke-width="0.5"/><rect x="115.22" y="396.67" width="2.1" height="2" fill="#ab3d2c" stroke="#7a281d" stroke-width="0.5"/><rect x="118.47" y="393" width="2.1" height="5.67" fill="#3f7d5a" stroke="#2c5c43" stroke-width="0.5"/><rect x="121.71" y="385.83" width="2.1" height="7.5" fill="#3f7d5a" stroke="#2c5c43" stroke-width="0.5"/><rect x="124.96" y="385.83" width="2.1" height="13.83" fill="#ab3d2c" stroke="#7a281d" stroke-width="0.5"/><rect x="128.21" y="394.67" width="2.1" height="5" fill="#3f7d5a" stroke="#2c5c43" stroke-width="0.5"/><rect x="131.46" y="394.17" width="2.1" height="5" fill="#ab3d2c" stroke="#7a281d" stroke-width="0.5"/><rect x="134.7" y="398.83" width="2.1" height="9.83" fill="#ab3d2c" stroke="#7a281d" stroke-width="0.5"/><rect x="137.95" y="403.67" width="2.1" height="5" fill="#3f7d5a" stroke="#2c5c43" stroke-width="0.5"/><rect x="141.2" y="403.67" width="2.1" height="3.83" fill="#ab3d2c" stroke="#7a281d" stroke-width="0.5"/><rect x="144.45" y="403.33" width="2.1" height="4.67" fill="#3f7d5a" stroke="#2c5c43" stroke-width="0.5"/><rect x="147.69" y="403.33" width="2.1" height="3.33" fill="#ab3d2c" stroke="#7a281d" stroke-width="0.5"/><rect x="150.94" y="405.83" width="2.1" height="4.17" fill="#ab3d2c" stroke="#7a281d" stroke-width="0.5"/><rect x="154.19" y="408.33" width="2.1" height="1.33" fill="#3f7d5a" stroke="#2c5c43" stroke-width="0.5"/><rect x="157.44" y="409.17" width="2.1" height="7.5" fill="#ab3d2c" stroke="#7a281d" stroke-width="0.5"/><rect x="160.68" y="415.83" width="2.1" height="3.83" fill="#ab3d2c" stroke="#7a281d" stroke-width="0.5"/><rect x="163.93" y="419.17" width="2.1" height="3.33" fill="#ab3d2c" stroke="#7a281d" stroke-width="0.5"/><rect x="167.18" y="420" width="2.1" height="2" fill="#3f7d5a" stroke="#2c5c43" stroke-width="0.5"/><rect x="170.43" y="420" width="2.1" height="11.67" fill="#ab3d2c" stroke="#7a281d" stroke-width="0.5"/><rect x="173.67" y="430.83" width="2.1" height="10.83" fill="#ab3d2c" stroke="#7a281d" stroke-width="0.5"/><rect x="176.92" y="425.33" width="2.1" height="16.33" fill="#3f7d5a" stroke="#2c5c43" stroke-width="0.5"/><rect x="180.17" y="418.33" width="2.1" height="8" fill="#3f7d5a" stroke="#2c5c43" stroke-width="0.5"/><rect x="183.41" y="413" width="2.1" height="6.17" fill="#3f7d5a" stroke="#2c5c43" stroke-width="0.5"/><rect x="186.66" y="412.5" width="2.1" height="1.67" fill="#ab3d2c" stroke="#7a281d" stroke-width="0.5"/><rect x="189.91" y="412.5" width="2.1" height="2.17" fill="#ab3d2c" stroke="#7a281d" stroke-width="0.5"/><rect x="193.16" y="408" width="2.1" height="6.67" fill="#3f7d5a" stroke="#2c5c43" stroke-width="0.5"/><rect x="196.4" y="400.83" width="2.1" height="7.83" fill="#3f7d5a" stroke="#2c5c43" stroke-width="0.5"/><rect x="199.65" y="375" width="2.1" height="26.67" fill="#3f7d5a" stroke="#2c5c43" stroke-width="0.5"/><rect x="202.9" y="371.67" width="2.1" height="4.17" fill="#3f7d5a" stroke="#2c5c43" stroke-width="0.5"/><rect x="206.15" y="370" width="2.1" height="2.5" fill="#3f7d5a" stroke="#2c5c43" stroke-width="0.5"/><rect x="209.39" y="370.33" width="2.1" height="1.67" fill="#ab3d2c" stroke="#7a281d" stroke-width="0.5"/><rect x="212.64" y="371.33" width="2.1" height="7" fill="#ab3d2c" stroke="#7a281d" stroke-width="0.5"/><rect x="215.89" y="374.5" width="2.1" height="4.17" fill="#3f7d5a" stroke="#2c5c43" stroke-width="0.5"/><rect x="219.14" y="374.17" width="2.1" height="7.5" fill="#ab3d2c" stroke="#7a281d" stroke-width="0.5"/><rect x="222.38" y="375.83" width="2.1" height="5.83" fill="#3f7d5a" stroke="#2c5c43" stroke-width="0.5"/><rect x="225.63" y="375" width="2.1" height="1.67" fill="#3f7d5a" stroke="#2c5c43" stroke-width="0.5"/><rect x="228.88" y="371.33" width="2.1" height="4.5" fill="#3f7d5a" stroke="#2c5c43" stroke-width="0.5"/><rect x="232.13" y="353.67" width="2.1" height="18.33" fill="#3f7d5a" stroke="#2c5c43" stroke-width="0.5"/><rect x="235.37" y="353.67" width="2.1" height="9.67" fill="#ab3d2c" stroke="#7a281d" stroke-width="0.5"/><rect x="238.62" y="353.33" width="2.1" height="10.33" fill="#3f7d5a" stroke="#2c5c43" stroke-width="0.5"/><rect x="241.87" y="345.83" width="2.1" height="8.33" fill="#3f7d5a" stroke="#2c5c43" stroke-width="0.5"/><rect x="245.12" y="310.33" width="2.1" height="36" fill="#3f7d5a" stroke="#2c5c43" stroke-width="0.5"/><rect x="248.36" y="310.33" width="2.1" height="10" fill="#ab3d2c" stroke="#7a281d" stroke-width="0.5"/><rect x="251.61" y="295.83" width="2.1" height="25" fill="#3f7d5a" stroke="#2c5c43" stroke-width="0.5"/><rect x="254.86" y="263.33" width="2.1" height="33" fill="#3f7d5a" stroke="#2c5c43" stroke-width="0.5"/><rect x="258.1" y="263" width="2.1" height="1.17" fill="#3f7d5a" stroke="#2c5c43" stroke-width="0.5"/><rect x="261.35" y="263.33" width="2.1" height="15.5" fill="#ab3d2c" stroke="#7a281d" stroke-width="0.5"/><rect x="264.6" y="278.33" width="2.1" height="16.33" fill="#ab3d2c" stroke="#7a281d" stroke-width="0.5"/><rect x="267.85" y="286.33" width="2.1" height="8.33" fill="#3f7d5a" stroke="#2c5c43" stroke-width="0.5"/><rect x="271.09" y="270.83" width="2.1" height="15.83" fill="#3f7d5a" stroke="#2c5c43" stroke-width="0.5"/><rect x="274.34" y="265.83" width="2.1" height="5.5" fill="#3f7d5a" stroke="#2c5c43" stroke-width="0.5"/><rect x="277.59" y="265.83" width="2.1" height="8.33" fill="#ab3d2c" stroke="#7a281d" stroke-width="0.5"/><rect x="280.84" y="272.17" width="2.1" height="2.33" fill="#3f7d5a" stroke="#2c5c43" stroke-width="0.5"/><rect x="284.08" y="269.17" width="2.1" height="3.83" fill="#3f7d5a" stroke="#2c5c43" stroke-width="0.5"/><rect x="287.33" y="269.17" width="2.1" height="18.33" fill="#ab3d2c" stroke="#7a281d" stroke-width="0.5"/><rect x="290.58" y="280.83" width="2.1" height="6.67" fill="#3f7d5a" stroke="#2c5c43" stroke-width="0.5"/><rect x="293.83" y="280.83" width="2.1" height="18.33" fill="#ab3d2c" stroke="#7a281d" stroke-width="0.5"/><rect x="297.07" y="278" width="2.1" height="21.67" fill="#3f7d5a" stroke="#2c5c43" stroke-width="0.5"/><rect x="300.32" y="278" width="2.1" height="8.67" fill="#ab3d2c" stroke="#7a281d" stroke-width="0.5"/><rect x="303.57" y="285.83" width="2.1" height="1" fill="#ab3d2c" stroke="#7a281d" stroke-width="0.5"/><rect x="306.82" y="285.83" width="2.1" height="8.33" fill="#ab3d2c" stroke="#7a281d" stroke-width="0.5"/><rect x="310.06" y="278.67" width="2.1" height="15.5" fill="#3f7d5a" stroke="#2c5c43" stroke-width="0.5"/><rect x="313.31" y="270.33" width="2.1" height="8.83" fill="#3f7d5a" stroke="#2c5c43" stroke-width="0.5"/><rect x="316.56" y="267.5" width="2.1" height="4.17" fill="#3f7d5a" stroke="#2c5c43" stroke-width="0.5"/><rect x="319.81" y="260.83" width="2.1" height="7.5" fill="#3f7d5a" stroke="#2c5c43" stroke-width="0.5"/><rect x="323.05" y="262" width="2.1" height="6.33" fill="#ab3d2c" stroke="#7a281d" stroke-width="0.5"/><rect x="326.3" y="259.17" width="2.1" height="9.17" fill="#3f7d5a" stroke="#2c5c43" stroke-width="0.5"/><rect x="329.55" y="247" width="2.1" height="12.67" fill="#3f7d5a" stroke="#2c5c43" stroke-width="0.5"/><rect x="332.8" y="247" width="2.1" height="42.17" fill="#ab3d2c" stroke="#7a281d" stroke-width="0.5"/><rect x="336.04" y="288.83" width="2.1" height="5.83" fill="#ab3d2c" stroke="#7a281d" stroke-width="0.5"/><rect x="339.29" y="293.67" width="2.1" height="3.33" fill="#ab3d2c" stroke="#7a281d" stroke-width="0.5"/><rect x="342.54" y="296.33" width="2.1" height="6.17" fill="#ab3d2c" stroke="#7a281d" stroke-width="0.5"/><rect x="345.78" y="298" width="2.1" height="4.5" fill="#3f7d5a" stroke="#2c5c43" stroke-width="0.5"/><rect x="349.03" y="290" width="2.1" height="8.67" fill="#3f7d5a" stroke="#2c5c43" stroke-width="0.5"/><rect x="352.28" y="290" width="2.1" height="10.83" fill="#ab3d2c" stroke="#7a281d" stroke-width="0.5"/><rect x="355.53" y="294.17" width="2.1" height="6.67" fill="#3f7d5a" stroke="#2c5c43" stroke-width="0.5"/><rect x="358.77" y="289.67" width="2.1" height="5" fill="#3f7d5a" stroke="#2c5c43" stroke-width="0.5"/><rect x="362.02" y="290" width="2.1" height="5.83" fill="#ab3d2c" stroke="#7a281d" stroke-width="0.5"/><rect x="365.27" y="295.33" width="2.1" height="5.5" fill="#ab3d2c" stroke="#7a281d" stroke-width="0.5"/><rect x="368.52" y="298.33" width="2.1" height="2.5" fill="#3f7d5a" stroke="#2c5c43" stroke-width="0.5"/><rect x="371.76" y="298.33" width="2.1" height="5.83" fill="#ab3d2c" stroke="#7a281d" stroke-width="0.5"/><rect x="375.01" y="303.33" width="2.1" height="26.17" fill="#ab3d2c" stroke="#7a281d" stroke-width="0.5"/><rect x="378.26" y="329.17" width="2.1" height="11.67" fill="#ab3d2c" stroke="#7a281d" stroke-width="0.5"/><rect x="381.51" y="312" width="2.1" height="28.83" fill="#3f7d5a" stroke="#2c5c43" stroke-width="0.5"/><rect x="384.75" y="312" width="2.1" height="1.67" fill="#ab3d2c" stroke="#7a281d" stroke-width="0.5"/><rect x="388" y="313" width="2.1" height="12.33" fill="#ab3d2c" stroke="#7a281d" stroke-width="0.5"/><rect x="391.25" y="324.67" width="2.1" height="1.17" fill="#ab3d2c" stroke="#7a281d" stroke-width="0.5"/><rect x="394.5" y="324.67" width="2.1" height="1" fill="#3f7d5a" stroke="#2c5c43" stroke-width="0.5"/><rect x="397.74" y="325" width="2.1" height="4.67" fill="#ab3d2c" stroke="#7a281d" stroke-width="0.5"/><rect x="400.99" y="329.17" width="2.1" height="7.17" fill="#ab3d2c" stroke="#7a281d" stroke-width="0.5"/><rect x="404.24" y="328.33" width="2.1" height="8" fill="#3f7d5a" stroke="#2c5c43" stroke-width="0.5"/><rect x="407.49" y="322" width="2.1" height="6.83" fill="#3f7d5a" stroke="#2c5c43" stroke-width="0.5"/><rect x="410.73" y="304.17" width="2.1" height="18.67" fill="#3f7d5a" stroke="#2c5c43" stroke-width="0.5"/><rect x="413.98" y="304.17" width="2.1" height="2.5" fill="#ab3d2c" stroke="#7a281d" stroke-width="0.5"/><rect x="417.23" y="302" width="2.1" height="4.67" fill="#3f7d5a" stroke="#2c5c43" stroke-width="0.5"/><rect x="420.47" y="302" width="2.1" height="3" fill="#ab3d2c" stroke="#7a281d" stroke-width="0.5"/><rect x="423.72" y="296.33" width="2.1" height="8.67" fill="#3f7d5a" stroke="#2c5c43" stroke-width="0.5"/><rect x="426.97" y="296.33" width="2.1" height="2.33" fill="#ab3d2c" stroke="#7a281d" stroke-width="0.5"/><rect x="430.22" y="298" width="2.1" height="2.33" fill="#ab3d2c" stroke="#7a281d" stroke-width="0.5"/><rect x="433.46" y="299.67" width="2.1" height="1.67" fill="#ab3d2c" stroke="#7a281d" stroke-width="0.5"/><rect x="436.71" y="283.33" width="2.1" height="18" fill="#3f7d5a" stroke="#2c5c43" stroke-width="0.5"/><rect x="439.96" y="283.33" width="2.1" height="5.33" fill="#ab3d2c" stroke="#7a281d" stroke-width="0.5"/><rect x="443.21" y="286.67" width="2.1" height="1.33" fill="#3f7d5a" stroke="#2c5c43" stroke-width="0.5"/><rect x="446.45" y="287.17" width="2.1" height="6.5" fill="#ab3d2c" stroke="#7a281d" stroke-width="0.5"/><rect x="449.7" y="288.67" width="2.1" height="5" fill="#3f7d5a" stroke="#2c5c43" stroke-width="0.5"/><rect x="452.95" y="287.5" width="2.1" height="1.67" fill="#3f7d5a" stroke="#2c5c43" stroke-width="0.5"/><rect x="456.2" y="286.17" width="2.1" height="2.17" fill="#3f7d5a" stroke="#2c5c43" stroke-width="0.5"/><rect x="459.44" y="286.17" width="2.1" height="1.83" fill="#ab3d2c" stroke="#7a281d" stroke-width="0.5"/><rect x="462.69" y="287.5" width="2.1" height="7.83" fill="#ab3d2c" stroke="#7a281d" stroke-width="0.5"/><rect x="465.94" y="295" width="2.1" height="2.5" fill="#ab3d2c" stroke="#7a281d" stroke-width="0.5"/><rect x="469.19" y="295" width="2.1" height="1.67" fill="#3f7d5a" stroke="#2c5c43" stroke-width="0.5"/><rect x="472.43" y="285.33" width="2.1" height="10.5" fill="#3f7d5a" stroke="#2c5c43" stroke-width="0.5"/><rect x="475.68" y="285.33" width="2.1" height="10.5" fill="#ab3d2c" stroke="#7a281d" stroke-width="0.5"/><rect x="478.93" y="294.33" width="2.1" height="2" fill="#3f7d5a" stroke="#2c5c43" stroke-width="0.5"/><rect x="482.18" y="294.33" width="2.1" height="1.5" fill="#3f7d5a" stroke="#2c5c43" stroke-width="0.5"/><rect x="485.42" y="295" width="2.1" height="3" fill="#ab3d2c" stroke="#7a281d" stroke-width="0.5"/><rect x="488.67" y="295" width="2.1" height="2.5" fill="#3f7d5a" stroke="#2c5c43" stroke-width="0.5"/><rect x="491.92" y="292.5" width="2.1" height="3.33" fill="#3f7d5a" stroke="#2c5c43" stroke-width="0.5"/><rect x="495.17" y="292.5" width="2.1" height="21.67" fill="#ab3d2c" stroke="#7a281d" stroke-width="0.5"/><rect x="498.41" y="302" width="2.1" height="12.17" fill="#3f7d5a" stroke="#2c5c43" stroke-width="0.5"/><rect x="501.66" y="296.67" width="2.1" height="5.83" fill="#3f7d5a" stroke="#2c5c43" stroke-width="0.5"/><rect x="504.91" y="296.33" width="2.1" height="1.33" fill="#3f7d5a" stroke="#2c5c43" stroke-width="0.5"/><rect x="508.15" y="292" width="2.1" height="4.67" fill="#3f7d5a" stroke="#2c5c43" stroke-width="0.5"/><rect x="511.4" y="292.5" width="2.1" height="4.17" fill="#ab3d2c" stroke="#7a281d" stroke-width="0.5"/><rect x="514.65" y="287.5" width="2.1" height="9.17" fill="#3f7d5a" stroke="#2c5c43" stroke-width="0.5"/><rect x="517.9" y="274.5" width="2.1" height="13.83" fill="#3f7d5a" stroke="#2c5c43" stroke-width="0.5"/><rect x="521.14" y="274.5" width="2.1" height="2.5" fill="#ab3d2c" stroke="#7a281d" stroke-width="0.5"/><rect x="524.39" y="276.33" width="2.1" height="7.33" fill="#ab3d2c" stroke="#7a281d" stroke-width="0.5"/><rect x="527.64" y="283" width="2.1" height="2.33" fill="#ab3d2c" stroke="#7a281d" stroke-width="0.5"/><rect x="530.89" y="272.83" width="2.1" height="12.5" fill="#3f7d5a" stroke="#2c5c43" stroke-width="0.5"/><rect x="534.13" y="262.5" width="2.1" height="10.83" fill="#3f7d5a" stroke="#2c5c43" stroke-width="0.5"/><rect x="537.38" y="262.5" width="2.1" height="5" fill="#ab3d2c" stroke="#7a281d" stroke-width="0.5"/><rect x="540.63" y="266.67" width="2.1" height="11.67" fill="#ab3d2c" stroke="#7a281d" stroke-width="0.5"/><rect x="543.88" y="274.17" width="2.1" height="4.17" fill="#3f7d5a" stroke="#2c5c43" stroke-width="0.5"/><rect x="547.12" y="274.17" width="2.1" height="4.5" fill="#ab3d2c" stroke="#7a281d" stroke-width="0.5"/><rect x="550.37" y="278.33" width="2.1" height="1" fill="#3f7d5a" stroke="#2c5c43" stroke-width="0.5"/><rect x="553.62" y="278.33" width="2.1" height="1" fill="#ab3d2c" stroke="#7a281d" stroke-width="0.5"/><rect x="556.87" y="278.33" width="2.1" height="3.33" fill="#ab3d2c" stroke="#7a281d" stroke-width="0.5"/><rect x="560.11" y="281.17" width="2.1" height="14.67" fill="#ab3d2c" stroke="#7a281d" stroke-width="0.5"/><rect x="563.36" y="294.67" width="2.1" height="2" fill="#3f7d5a" stroke="#2c5c43" stroke-width="0.5"/><rect x="566.61" y="295" width="2.1" height="10.33" fill="#ab3d2c" stroke="#7a281d" stroke-width="0.5"/><rect x="569.86" y="295.83" width="2.1" height="9.5" fill="#3f7d5a" stroke="#2c5c43" stroke-width="0.5"/><rect x="573.1" y="294.17" width="2.1" height="2.17" fill="#3f7d5a" stroke="#2c5c43" stroke-width="0.5"/><rect x="576.35" y="294.17" width="2.1" height="8.33" fill="#ab3d2c" stroke="#7a281d" stroke-width="0.5"/><rect x="579.6" y="302" width="2.1" height="4.67" fill="#ab3d2c" stroke="#7a281d" stroke-width="0.5"/><rect x="582.85" y="300" width="2.1" height="6.67" fill="#3f7d5a" stroke="#2c5c43" stroke-width="0.5"/><rect x="586.09" y="300" width="2.1" height="7.5" fill="#ab3d2c" stroke="#7a281d" stroke-width="0.5"/><rect x="589.34" y="304.17" width="2.1" height="3.33" fill="#3f7d5a" stroke="#2c5c43" stroke-width="0.5"/><rect x="592.59" y="304.17" width="2.1" height="21.67" fill="#ab3d2c" stroke="#7a281d" stroke-width="0.5"/><rect x="595.83" y="324.17" width="2.1" height="1.67" fill="#3f7d5a" stroke="#2c5c43" stroke-width="0.5"/><rect x="599.08" y="319.17" width="2.1" height="6.33" fill="#3f7d5a" stroke="#2c5c43" stroke-width="0.5"/><rect x="602.33" y="315" width="2.1" height="5" fill="#3f7d5a" stroke="#2c5c43" stroke-width="0.5"/><rect x="605.58" y="313.83" width="2.1" height="2" fill="#3f7d5a" stroke="#2c5c43" stroke-width="0.5"/><rect x="608.82" y="313.83" width="2.1" height="2" fill="#ab3d2c" stroke="#7a281d" stroke-width="0.5"/><rect x="612.07" y="315" width="2.1" height="4.67" fill="#ab3d2c" stroke="#7a281d" stroke-width="0.5"/><rect x="615.32" y="319.17" width="2.1" height="10.5" fill="#ab3d2c" stroke="#7a281d" stroke-width="0.5"/><rect x="618.57" y="329.17" width="2.1" height="17.5" fill="#ab3d2c" stroke="#7a281d" stroke-width="0.5"/><rect x="621.81" y="346.33" width="2.1" height="10.33" fill="#ab3d2c" stroke="#7a281d" stroke-width="0.5"/><rect x="625.06" y="351.33" width="2.1" height="5.83" fill="#3f7d5a" stroke="#2c5c43" stroke-width="0.5"/><rect x="628.31" y="351.33" width="2.1" height="3.67" fill="#ab3d2c" stroke="#7a281d" stroke-width="0.5"/><rect x="631.56" y="342.5" width="2.1" height="12.5" fill="#3f7d5a" stroke="#2c5c43" stroke-width="0.5"/><rect x="634.8" y="342.5" width="2.1" height="1.33" fill="#ab3d2c" stroke="#7a281d" stroke-width="0.5"/><rect x="638.05" y="343.33" width="2.1" height="15.83" fill="#ab3d2c" stroke="#7a281d" stroke-width="0.5"/><rect x="641.3" y="347.83" width="2.1" height="11.33" fill="#3f7d5a" stroke="#2c5c43" stroke-width="0.5"/><rect x="644.55" y="347.83" width="2.1" height="1" fill="#3f7d5a" stroke="#2c5c43" stroke-width="0.5"/><rect x="647.79" y="348" width="2.1" height="14.83" fill="#ab3d2c" stroke="#7a281d" stroke-width="0.5"/><rect x="651.04" y="355" width="2.1" height="7.83" fill="#3f7d5a" stroke="#2c5c43" stroke-width="0.5"/><rect x="654.29" y="351.33" width="2.1" height="4.5" fill="#3f7d5a" stroke="#2c5c43" stroke-width="0.5"/><rect x="657.54" y="351.33" width="2.1" height="5.83" fill="#ab3d2c" stroke="#7a281d" stroke-width="0.5"/><rect x="660.78" y="356.67" width="2.1" height="3" fill="#ab3d2c" stroke="#7a281d" stroke-width="0.5"/><rect x="664.03" y="350.83" width="2.1" height="8.83" fill="#3f7d5a" stroke="#2c5c43" stroke-width="0.5"/><rect x="667.28" y="348.67" width="2.1" height="3" fill="#3f7d5a" stroke="#2c5c43" stroke-width="0.5"/><rect x="670.52" y="338.67" width="2.1" height="11" fill="#3f7d5a" stroke="#2c5c43" stroke-width="0.5"/><rect x="673.77" y="324.17" width="2.1" height="15" fill="#3f7d5a" stroke="#2c5c43" stroke-width="0.5"/><rect x="677.02" y="322.17" width="2.1" height="2.83" fill="#3f7d5a" stroke="#2c5c43" stroke-width="0.5"/><rect x="680.27" y="314.17" width="2.1" height="8.33" fill="#3f7d5a" stroke="#2c5c43" stroke-width="0.5"/><rect x="683.51" y="314.17" width="2.1" height="18" fill="#ab3d2c" stroke="#7a281d" stroke-width="0.5"/><rect x="686.76" y="328.67" width="2.1" height="3.5" fill="#3f7d5a" stroke="#2c5c43" stroke-width="0.5"/><rect x="690.01" y="328.67" width="2.1" height="1.67" fill="#ab3d2c" stroke="#7a281d" stroke-width="0.5"/><rect x="693.26" y="328.33" width="2.1" height="2.17" fill="#3f7d5a" stroke="#2c5c43" stroke-width="0.5"/><rect x="696.5" y="328.67" width="2.1" height="17.17" fill="#ab3d2c" stroke="#7a281d" stroke-width="0.5"/><rect x="699.75" y="344.67" width="2.1" height="9.5" fill="#ab3d2c" stroke="#7a281d" stroke-width="0.5"/><rect x="703" y="348" width="2.1" height="6.17" fill="#3f7d5a" stroke="#2c5c43" stroke-width="0.5"/><rect x="706.25" y="348" width="2.1" height="2.83" fill="#ab3d2c" stroke="#7a281d" stroke-width="0.5"/><rect x="709.49" y="345.83" width="2.1" height="5" fill="#3f7d5a" stroke="#2c5c43" stroke-width="0.5"/><rect x="712.74" y="343" width="2.1" height="3.67" fill="#3f7d5a" stroke="#2c5c43" stroke-width="0.5"/><rect x="715.99" y="343.33" width="2.1" height="6.67" fill="#ab3d2c" stroke="#7a281d" stroke-width="0.5"/><rect x="719.24" y="349.5" width="2.1" height="3" fill="#ab3d2c" stroke="#7a281d" stroke-width="0.5"/><rect x="722.48" y="352" width="2.1" height="13" fill="#ab3d2c" stroke="#7a281d" stroke-width="0.5"/><rect x="725.73" y="363" width="2.1" height="2.33" fill="#3f7d5a" stroke="#2c5c43" stroke-width="0.5"/><rect x="728.98" y="363" width="2.1" height="5" fill="#ab3d2c" stroke="#7a281d" stroke-width="0.5"/><rect x="732.23" y="367.5" width="2.1" height="5.33" fill="#ab3d2c" stroke="#7a281d" stroke-width="0.5"/><rect x="735.47" y="370" width="2.1" height="3" fill="#3f7d5a" stroke="#2c5c43" stroke-width="0.5"/><rect x="738.72" y="370" width="2.1" height="5" fill="#ab3d2c" stroke="#7a281d" stroke-width="0.5"/><rect x="741.97" y="365" width="2.1" height="10" fill="#3f7d5a" stroke="#2c5c43" stroke-width="0.5"/><rect x="745.22" y="358" width="2.1" height="7.83" fill="#3f7d5a" stroke="#2c5c43" stroke-width="0.5"/><rect x="748.46" y="358" width="2.1" height="8.67" fill="#ab3d2c" stroke="#7a281d" stroke-width="0.5"/><rect x="751.71" y="365" width="2.1" height="1.67" fill="#3f7d5a" stroke="#2c5c43" stroke-width="0.5"/><rect x="754.96" y="363" width="2.1" height="2.33" fill="#3f7d5a" stroke="#2c5c43" stroke-width="0.5"/><rect x="758.2" y="363" width="2.1" height="1" fill="#ab3d2c" stroke="#7a281d" stroke-width="0.5"/><rect x="761.45" y="363.33" width="2.1" height="3.83" fill="#ab3d2c" stroke="#7a281d" stroke-width="0.5"/></g>
<line x1="320.5" y1="245.3" x2="1018.5" y2="245.3" stroke="#3a3a3c" stroke-width="1.25"/>
<line x1="496.5" y1="318.4" x2="1018.5" y2="318.4" stroke="#3a3a3c" stroke-width="1.25"/>
<line x1="535" y1="250" x2="751.45" y2="343.32" stroke="#3a48e3" stroke-width="2.05" stroke-dasharray="0.01 4.701" stroke-linecap="round"/>
<path d="M641.9 213.2L632.4 245.4M626.5 237.2L632.4 245.4L641.7 241.5" fill="none" stroke="#ec4665" stroke-width="1.6" stroke-linecap="round" stroke-linejoin="round"/>
<path d="M703.4 289L690.6 314.4M687.1 304.4L690.6 314.4L700.8 311.1" fill="none" stroke="#ec4665" stroke-width="1.6" stroke-linecap="round" stroke-linejoin="round"/>
<rect x="1018.5" y="1" width="49.5" height="547.5" fill="#fff"/>
<rect x="0" y="548.5" width="1068" height="51.5" fill="#fff"/>
<line x1="1018.5" y1="1" x2="1018.5" y2="570.5" stroke="#58585c" stroke-width="1"/>
<line x1="0" y1="548.5" x2="1068" y2="548.5" stroke="#58585c" stroke-width="1"/>
<line x1="0" y1="570.5" x2="1068" y2="570.5" stroke="#e0e3eb" stroke-width="1"/>
<rect x="0" y="0" width="1068" height="1" fill="#e0e3eb"/>
<circle cx="18.4" cy="531.2" r="12.4" fill="#fff"/>
<path d="M10.1 527.1H17V535.9H13.9V530.2H10.1Z" fill="#1c1e29"/>
<circle cx="19.6" cy="528.7" r="1.35" fill="#1c1e29"/>
<path d="M23.1 527.1H26.9L23.4 535.9H19.6Z" fill="#1c1e29"/>
<line x1="232.5" y1="577" x2="232.5" y2="594.5" stroke="#e0e3eb" stroke-width="1"/>
<line x1="976.7" y1="577" x2="976.7" y2="594.5" stroke="#e0e3eb" stroke-width="1"/>
<g fill="none" stroke="#41444f" stroke-width="0.9"><path d="M246.4 584.6V582.4Q246.4 580.6 248.2 580.6H256.6Q258.6 580.6 258.6 582.6V589Q258.6 591 256.6 591H252.6"/><path d="M246.4 584.1H258.6" stroke-width="1.35"/><path d="M249.6 579.3V581.7M255.4 579.3V581.7" stroke-width="1.15"/><path d="M245.2 588.5H251.4M249.1 586L251.6 588.5L249.1 591"/></g>
<circle cx="1043.4" cy="559.5" r="3.7" fill="none" stroke="#2a2d39" stroke-width="1.05"/>
<path d="M1047.5 559.5L1049.2 559.5M1046.3 562.4L1047.5 563.6M1043.4 563.6L1043.4 565.3M1040.5 562.4L1039.3 563.6M1039.3 559.5L1037.6 559.5M1040.5 556.6L1039.3 555.4M1043.4 555.4L1043.4 553.7M1046.3 556.6L1047.5 555.4" stroke="#2a2d39" stroke-width="1.25" fill="none"/>
<rect x="7.8" y="87.5" width="21.2" height="14.7" rx="2.5" fill="#fff" stroke="#d8dae0" stroke-width="1"/>
<path d="M15.3 96.8L18.3 93.9L21.3 96.8" fill="none" stroke="#2a2d39" stroke-width="1.3" stroke-linecap="round" stroke-linejoin="round"/>
</svg>
<div id="txt">
<span class="t" style="left:1025.62px;top:-1px;font-size:9.6px;line-height:14px;color:#555558;transform:scaleX(0.9167);transform-origin:0 0;">4.6000</span>
<span class="t" style="left:1025.62px;top:27px;font-size:9.6px;line-height:14px;color:#555558;transform:scaleX(0.9167);transform-origin:0 0;">4.0000</span>
<span class="t" style="left:1025.45px;top:60px;font-size:9.6px;line-height:14px;color:#555558;transform:scaleX(0.9228);transform-origin:0 0;">3.4000</span>
<span class="t" style="left:1025.45px;top:85px;font-size:9.6px;line-height:14px;color:#555558;transform:scaleX(0.9228);transform-origin:0 0;">3.0000</span>
<span class="t" style="left:1025.36px;top:114px;font-size:9.6px;line-height:14px;color:#555558;transform:scaleX(0.9259);transform-origin:0 0;">2.6000</span>
<span class="t" style="left:1025.36px;top:139px;font-size:9.6px;line-height:14px;color:#555558;transform:scaleX(0.9259);transform-origin:0 0;">2.3000</span>
<span class="t" style="left:1025.36px;top:167px;font-size:9.6px;line-height:14px;color:#555558;transform:scaleX(0.9259);transform-origin:0 0;">2.0000</span>
<span class="t" style="left:1025.08px;top:199px;font-size:9.6px;line-height:14px;color:#555558;transform:scaleX(0.9354);transform-origin:0 0;">1.7000</span>
<span class="t" style="left:1025.08px;top:225px;font-size:9.6px;line-height:14px;color:#555558;transform:scaleX(0.9354);transform-origin:0 0;">1.5000</span>
<span class="t" style="left:1025.08px;top:253px;font-size:9.6px;line-height:14px;color:#555558;transform:scaleX(0.9354);transform-origin:0 0;">1.3000</span>
<span class="t" style="left:1025.08px;top:278px;font-size:9.6px;line-height:14px;color:#555558;transform:scaleX(0.9354);transform-origin:0 0;">1.1500</span>
<span class="t" style="left:1025.08px;top:306px;font-size:9.6px;line-height:14px;color:#555558;transform:scaleX(0.9354);transform-origin:0 0;">1.0000</span>
<span class="t" style="left:1025.45px;top:339px;font-size:9.6px;line-height:14px;color:#555558;transform:scaleX(0.9228);transform-origin:0 0;">0.8500</span>
<span class="t" style="left:1025.45px;top:387px;font-size:9.6px;line-height:14px;color:#555558;transform:scaleX(0.9228);transform-origin:0 0;">0.6700</span>
<span class="t" style="left:1025.45px;top:412px;font-size:9.6px;line-height:14px;color:#555558;transform:scaleX(0.9228);transform-origin:0 0;">0.5900</span>
<span class="t" style="left:1025.45px;top:441px;font-size:9.6px;line-height:14px;color:#555558;transform:scaleX(0.9228);transform-origin:0 0;">0.5100</span>
<span class="t" style="left:1025.45px;top:467px;font-size:9.6px;line-height:14px;color:#555558;transform:scaleX(0.9228);transform-origin:0 0;">0.4500</span>
<span class="t" style="left:1025.45px;top:490px;font-size:9.6px;line-height:14px;color:#555558;transform:scaleX(0.9228);transform-origin:0 0;">0.4000</span>
<span class="t" style="left:1025.45px;top:514px;font-size:9.6px;line-height:14px;color:#555558;transform:scaleX(0.9228);transform-origin:0 0;">0.3550</span>
<span class="t" style="left:1025.45px;top:538px;font-size:9.6px;line-height:14px;color:#555558;transform:scaleX(0.9228);transform-origin:0 0;">0.3170</span>
<span class="t" style="left:8.59px;top:552px;font-size:9.5px;line-height:14px;color:#555558;transform:scaleX(0.9000);transform-origin:0 0;">Jun</span>
<span class="t" style="left:107.42px;top:552px;font-size:9.5px;line-height:14px;color:#555558;transform:scaleX(0.9000);transform-origin:0 0;">Jul</span>
<span class="t" style="left:206.08px;top:552px;font-size:9.5px;line-height:14px;color:#555558;transform:scaleX(0.9000);transform-origin:0 0;">Aug</span>
<span class="t" style="left:306.41px;top:552px;font-size:9.5px;line-height:14px;color:#555558;transform:scaleX(0.9000);transform-origin:0 0;">Sep</span>
<span class="t" style="left:404.64px;top:552px;font-size:9.5px;line-height:14px;color:#555558;transform:scaleX(0.9000);transform-origin:0 0;">Oct</span>
<span class="t" style="left:504.2px;top:552px;font-size:9.5px;line-height:14px;color:#555558;transform:scaleX(0.9000);transform-origin:0 0;">Nov</span>
<span class="t" style="left:601.75px;top:552px;font-size:9.5px;line-height:14px;color:#555558;transform:scaleX(0.9000);transform-origin:0 0;">Dec</span>
<span class="t" style="left:700.71px;top:552px;font-size:9.5px;line-height:14px;color:#555558;transform:scaleX(0.9000);transform-origin:0 0;">2022</span>
<span class="t" style="left:803.35px;top:552px;font-size:9.5px;line-height:14px;color:#555558;transform:scaleX(0.9000);transform-origin:0 0;">Feb</span>
<span class="t" style="left:894.19px;top:552px;font-size:9.5px;line-height:14px;color:#555558;transform:scaleX(0.9000);transform-origin:0 0;">Mar</span>
<span class="t" style="left:995.93px;top:552px;font-size:9.5px;line-height:14px;color:#555558;transform:scaleX(0.9000);transform-origin:0 0;">Apr</span>
<div class="b" style="left:0;top:8px;width:546px;height:15px;background:rgba(255,255,255,0.78)"></div>
<span class="t" style="left:230.22px;top:11px;font-size:9.9px;line-height:14px;color:#ea9bcf;transform:scaleX(0.8949);transform-origin:0 0;">4.236(4.3377)</span>
<div class="b" style="left:0;top:8px;width:254px;height:15px;background:rgba(255,255,255,0.62)"></div>
<span class="t" style="left:6.75px;top:6px;font-size:11.9px;line-height:16px;color:#46464a;transform:scaleX(0.9797);transform-origin:0 0;">XRP / TetherUS · 1D · BINANCE · TradingView</span>
<div class="b" style="left:262.9px;top:6.3px;width:13.6px;height:13.6px;border-radius:50%;background:rgba(150,185,220,0.32)"></div>
<div class="b" style="left:266.7px;top:10.1px;width:6px;height:6px;border-radius:50%;background:#186f9e"></div>
<span class="t" style="left:289.42px;top:8px;font-size:10px;line-height:14px;color:#6c6c70;transform:scaleX(0.9559);transform-origin:0 0;">O</span>
<span class="t" style="left:296.99px;top:8px;font-size:10px;line-height:14px;color:#7b2f2a;transform:scaleX(1.0369);transform-origin:0 0;">0.7785</span>
<span class="t" style="left:332.37px;top:8px;font-size:10px;line-height:14px;color:#6c6c70;transform:scaleX(1.1607);transform-origin:0 0;">H</span>
<span class="t" style="left:340.38px;top:8px;font-size:10px;line-height:14px;color:#7b2f2a;transform:scaleX(1.0436);transform-origin:0 0;">0.7805</span>
<span class="t" style="left:376.15px;top:8px;font-size:10px;line-height:14px;color:#6c6c70;transform:scaleX(1.1818);transform-origin:0 0;">L</span>
<span class="t" style="left:383.09px;top:8px;font-size:10px;line-height:14px;color:#7b2f2a;transform:scaleX(1.0268);transform-origin:0 0;">0.7554</span>
<span class="t" style="left:419.09px;top:8px;font-size:10px;line-height:14px;color:#6c6c70;transform:scaleX(1.0159);transform-origin:0 0;">C</span>
<span class="t" style="left:426.29px;top:8px;font-size:10px;line-height:14px;color:#7b2f2a;transform:scaleX(1.0268);transform-origin:0 0;">0.7645</span>
<span class="t" style="left:462.6px;top:8px;font-size:10px;line-height:14px;color:#7b2f2a;transform:scaleX(0.9944);transform-origin:0 0;">−0.0139</span>
<span class="t" style="left:502.42px;top:8px;font-size:10px;line-height:14px;color:#7b2f2a;transform:scaleX(0.9697);transform-origin:0 0;">(−1.79%)</span>
<div class="b" style="left:6.4px;top:26.2px;width:43.4px;height:18.4px;border:1px solid #f0475a;border-radius:3px;background:#fff"></div>
<span class="t" style="left:12.29px;top:29px;font-size:10px;line-height:14px;color:#f23645;transform:scaleX(1.0301);transform-origin:0 0;">0.7644</span>
<span class="t" style="left:56.26px;top:29px;font-size:9.4px;line-height:13px;color:#55575f;transform:scaleX(0.9134);transform-origin:0 0;">0.0001</span>
<div class="b" style="left:89px;top:26.2px;width:44.2px;height:18.4px;border:1px solid #3f74ff;border-radius:3px;background:#fff"></div>
<span class="t" style="left:95.49px;top:29px;font-size:10px;line-height:14px;color:#2962ff;transform:scaleX(1.0268);transform-origin:0 0;">0.7645</span>
<span class="t" style="left:7.31px;top:51px;font-size:10px;line-height:14px;color:#46464a;transform:scaleX(0.9167);transform-origin:0 0;">Vol</span>
<span class="t" style="left:25.49px;top:51px;font-size:10px;line-height:14px;color:#f23645;transform:scaleX(1.0526);transform-origin:0 0;">48.75M</span>
<span class="t" style="left:6.61px;top:70px;font-size:10px;line-height:14px;color:#46464a;transform:scaleX(0.9898);transform-origin:0 0;">BB 20 close 2 0</span>
<span class="t" style="left:81.98px;top:70px;font-size:10px;line-height:14px;color:#f58c3c;transform:scaleX(1.0438);transform-origin:0 0;">0.7918</span>
<span class="t" style="left:117.99px;top:70px;font-size:10px;line-height:14px;color:#4c84ff;transform:scaleX(1.0268);transform-origin:0 0;">0.8625</span>
<span class="t" style="left:153.68px;top:70px;font-size:10px;line-height:14px;color:#4c84ff;transform:scaleX(1.0403);transform-origin:0 0;">0.7210</span>
<span class="t" style="left:230.04px;top:39px;font-size:9.9px;line-height:14px;color:#a23bd0;transform:scaleX(0.8979);transform-origin:0 0;-webkit-text-stroke:0.06px currentColor;">3.618(3.7808)</span>
<span class="t" style="left:229.95px;top:93px;font-size:9.9px;line-height:14px;color:#d9483f;transform:scaleX(0.8993);transform-origin:0 0;-webkit-text-stroke:0.06px currentColor;">2.618(2.8796)</span>
<span class="t" style="left:229.68px;top:169px;font-size:9.9px;line-height:14px;color:#3f45e2;transform:scaleX(0.9038);transform-origin:0 0;-webkit-text-stroke:0.06px currentColor;">1.618(1.9785)</span>
<span class="t" style="left:173.08px;top:232px;font-size:10px;line-height:14px;color:#4b4b4f;transform:scaleX(0.8700);transform-origin:0 0;-webkit-text-stroke:0.15px currentColor;">0</span>
<span class="t" style="left:156.2px;top:265px;font-size:10px;line-height:14px;color:#4b4b4f;transform:scaleX(0.8700);transform-origin:0 0;-webkit-text-stroke:0.15px currentColor;">0.236</span>
<span class="t" style="left:156.2px;top:287px;font-size:10px;line-height:14px;color:#4b4b4f;transform:scaleX(0.8700);transform-origin:0 0;-webkit-text-stroke:0.15px currentColor;">0.382</span>
<span class="t" style="left:165.85px;top:309px;font-size:10px;line-height:14px;color:#4b4b4f;transform:scaleX(0.8700);transform-origin:0 0;-webkit-text-stroke:0.15px currentColor;">0.5</span>
<span class="t" style="left:156.2px;top:333px;font-size:10px;line-height:14px;color:#4b4b4f;transform:scaleX(0.8700);transform-origin:0 0;-webkit-text-stroke:0.15px currentColor;">0.618</span>
<span class="t" style="left:156.2px;top:372px;font-size:10px;line-height:14px;color:#4b4b4f;transform:scaleX(0.8700);transform-origin:0 0;-webkit-text-stroke:0.15px currentColor;">0.786</span>
<span class="t" style="left:614.83px;top:196px;font-size:15px;line-height:20px;color:#2e9bf0;transform:scaleX(1.0562);transform-origin:0 0;-webkit-text-stroke:0.4px #2e9bf0;">Buy Target at $1.40</span>
<span class="t" style="left:682.99px;top:264px;font-size:15px;line-height:20px;color:#2e9bf0;transform:scaleX(1.0064);transform-origin:0 0;-webkit-text-stroke:0.4px #2e9bf0;">Resistance at $1</span>
<div class="b" style="left:1029.8px;top:5.8px;width:26.8px;height:14.3px;border:1px solid #e3e5ea;border-radius:2.5px;background:#fff"></div>
<span class="t" style="left:1033.11px;top:6px;font-size:9.4px;line-height:13px;color:#5a5c63;transform:scaleX(0.7877);transform-origin:0 0;">USDT</span>
<div class="b" style="left:1018px;top:238.9px;width:38px;height:12.8px;background:#000;border-radius:0 2px 2px 0"></div>
<span class="t" style="left:1025.18px;top:239px;font-size:9.6px;line-height:14px;color:#fff;transform:scaleX(0.9350);transform-origin:0 0;-webkit-text-stroke:0.3px #fff;">1.4038</span>
<div class="b" style="left:1018px;top:312.4px;width:38px;height:12.6px;background:#000;border-radius:0 2px 2px 0"></div>
<span class="t" style="left:1025.55px;top:312px;font-size:9.6px;line-height:14px;color:#fff;transform:scaleX(0.9224);transform-origin:0 0;-webkit-text-stroke:0.3px #fff;">0.9746</span>
<div class="b" style="left:975px;top:360.4px;width:42.3px;height:13.1px;background:#d85543;border-radius:2px 0 0 2px"></div>
<span class="t" style="left:978.38px;top:361px;font-size:8.8px;line-height:13px;color:#fff;transform:scaleX(0.8168);transform-origin:0 0;-webkit-text-stroke:0.2px #fff;">XRPUSDT</span>
<div class="b" style="left:1018px;top:360.4px;width:45.8px;height:23.4px;background:#d85543;border-radius:0 2px 2px 0"></div>
<span class="t" style="left:1025.55px;top:360px;font-size:9.6px;line-height:14px;color:#fff;transform:scaleX(0.9193);transform-origin:0 0;-webkit-text-stroke:0.25px #fff;">0.7645</span>
<span class="t" style="left:1025.18px;top:371px;font-size:9.6px;line-height:14px;color:#fdeeea;transform:scaleX(0.9311);transform-origin:0 0;-webkit-text-stroke:0.15px #fdeeea;">17:25:32</span>
<span class="t" style="left:12.29px;top:580px;font-size:10.2px;line-height:14px;color:#25272f;-webkit-text-stroke:0.1px currentColor;">1D</span>
<span class="t" style="left:35.99px;top:580px;font-size:10.2px;line-height:14px;color:#25272f;-webkit-text-stroke:0.1px currentColor;">5D</span>
<span class="t" style="left:58.49px;top:580px;font-size:10.2px;line-height:14px;color:#25272f;letter-spacing:0.579px;transform:scaleX(1.1200);transform-origin:0 0;-webkit-text-stroke:0.1px currentColor;">1M</span>
<span class="t" style="left:83.54px;top:580px;font-size:10.2px;line-height:14px;color:#25272f;letter-spacing:0.171px;transform:scaleX(1.1200);transform-origin:0 0;-webkit-text-stroke:0.1px currentColor;">3M</span>
<span class="t" style="left:108.43px;top:580px;font-size:10.2px;line-height:14px;color:#25272f;letter-spacing:0.630px;transform:scaleX(1.1200);transform-origin:0 0;-webkit-text-stroke:0.1px currentColor;">6M</span>
<span class="t" style="left:134.3px;top:580px;font-size:10.2px;line-height:14px;color:#25272f;transform:scaleX(0.9602);transform-origin:0 0;-webkit-text-stroke:0.1px currentColor;">YTD</span>
<span class="t" style="left:163.73px;top:580px;font-size:10.2px;line-height:14px;color:#25272f;transform:scaleX(0.9454);transform-origin:0 0;-webkit-text-stroke:0.1px currentColor;">1Y</span>
<span class="t" style="left:185.62px;top:580px;font-size:10.2px;line-height:14px;color:#25272f;transform:scaleX(0.9381);transform-origin:0 0;-webkit-text-stroke:0.1px currentColor;">5Y</span>
<span class="t" style="left:207.5px;top:580px;font-size:10.2px;line-height:14px;color:#25272f;letter-spacing:0.136px;transform:scaleX(1.1200);transform-origin:0 0;-webkit-text-stroke:0.1px currentColor;">All</span>
<span class="t" style="left:881.69px;top:579px;font-size:10.6px;line-height:15px;color:#25272f;transform:scaleX(0.9708);transform-origin:0 0;-webkit-text-stroke:0.1px currentColor;">09:34:27 (UTC+3)</span>
<span class="t" style="left:989.42px;top:579px;font-size:10.6px;line-height:15px;color:#25272f;transform:scaleX(1.1965);transform-origin:0 0;-webkit-text-stroke:0.1px currentColor;">%</span>
<span class="t" style="left:1010.37px;top:579px;font-size:10.6px;line-height:15px;color:#2962ff;letter-spacing:0.381px;transform:scaleX(1.1200);transform-origin:0 0;-webkit-text-stroke:0.1px currentColor;">log</span>
<span class="t" style="left:1036.13px;top:579px;font-size:10.6px;line-height:15px;color:#25272f;letter-spacing:0.149px;transform:scaleX(1.1200);transform-origin:0 0;-webkit-text-stroke:0.1px currentColor;">auto</span>
</div>
</body></html>
